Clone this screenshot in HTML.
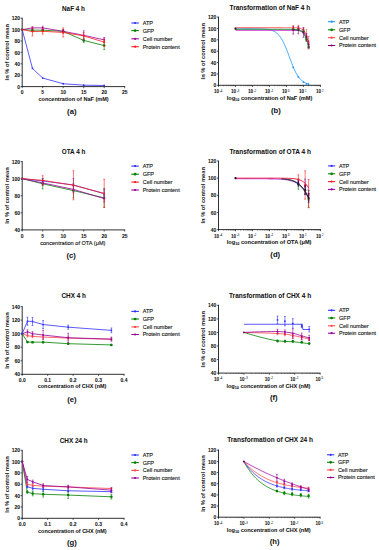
<!DOCTYPE html>
<html><head><meta charset="utf-8"><style>
html,body{margin:0;padding:0;background:#fff;overflow:hidden;width:379px;height:550px;}
svg{display:block;}
text{font-family:"Liberation Sans", sans-serif;stroke:#111;stroke-width:0.12px;}
text[font-weight=bold]{stroke-width:0.04px;}
</style></head><body>
<svg width="379" height="550" viewBox="0 0 379 550">
<rect width="379" height="550" fill="#fff"/>
<text x="73.50" y="10.62" font-size="6.35" font-weight="bold" text-anchor="middle" fill="#111" >NaF 4 h</text>
<line x1="22.20" y1="87.05" x2="22.20" y2="17.75" stroke="#1a1a1a" stroke-width="0.9"/>
<line x1="20.60" y1="86.60" x2="22.20" y2="86.60" stroke="#1a1a1a" stroke-width="0.7"/>
<text x="20.00" y="88.70" font-size="5.0" font-weight="bold" text-anchor="end" fill="#111" >0</text>
<line x1="20.60" y1="75.20" x2="22.20" y2="75.20" stroke="#1a1a1a" stroke-width="0.7"/>
<text x="20.00" y="77.30" font-size="5.0" font-weight="bold" text-anchor="end" fill="#111" >20</text>
<line x1="20.60" y1="63.80" x2="22.20" y2="63.80" stroke="#1a1a1a" stroke-width="0.7"/>
<text x="20.00" y="65.90" font-size="5.0" font-weight="bold" text-anchor="end" fill="#111" >40</text>
<line x1="20.60" y1="52.40" x2="22.20" y2="52.40" stroke="#1a1a1a" stroke-width="0.7"/>
<text x="20.00" y="54.50" font-size="5.0" font-weight="bold" text-anchor="end" fill="#111" >60</text>
<line x1="20.60" y1="41.00" x2="22.20" y2="41.00" stroke="#1a1a1a" stroke-width="0.7"/>
<text x="20.00" y="43.10" font-size="5.0" font-weight="bold" text-anchor="end" fill="#111" >80</text>
<line x1="20.60" y1="29.60" x2="22.20" y2="29.60" stroke="#1a1a1a" stroke-width="0.7"/>
<text x="20.00" y="31.70" font-size="5.0" font-weight="bold" text-anchor="end" fill="#111" >100</text>
<line x1="20.60" y1="18.20" x2="22.20" y2="18.20" stroke="#1a1a1a" stroke-width="0.7"/>
<text x="20.00" y="20.30" font-size="5.0" font-weight="bold" text-anchor="end" fill="#111" >120</text>
<line x1="21.75" y1="86.60" x2="125.15" y2="86.60" stroke="#1a1a1a" stroke-width="0.9"/>
<line x1="22.20" y1="86.60" x2="22.20" y2="88.20" stroke="#1a1a1a" stroke-width="0.7"/>
<text x="22.20" y="94.40" font-size="5.0" font-weight="bold" text-anchor="middle" fill="#111" >0</text>
<line x1="42.70" y1="86.60" x2="42.70" y2="88.20" stroke="#1a1a1a" stroke-width="0.7"/>
<text x="42.70" y="94.40" font-size="5.0" font-weight="bold" text-anchor="middle" fill="#111" >5</text>
<line x1="63.20" y1="86.60" x2="63.20" y2="88.20" stroke="#1a1a1a" stroke-width="0.7"/>
<text x="63.20" y="94.40" font-size="5.0" font-weight="bold" text-anchor="middle" fill="#111" >10</text>
<line x1="83.70" y1="86.60" x2="83.70" y2="88.20" stroke="#1a1a1a" stroke-width="0.7"/>
<text x="83.70" y="94.40" font-size="5.0" font-weight="bold" text-anchor="middle" fill="#111" >15</text>
<line x1="104.20" y1="86.60" x2="104.20" y2="88.20" stroke="#1a1a1a" stroke-width="0.7"/>
<text x="104.20" y="94.40" font-size="5.0" font-weight="bold" text-anchor="middle" fill="#111" >20</text>
<line x1="124.70" y1="86.60" x2="124.70" y2="88.20" stroke="#1a1a1a" stroke-width="0.7"/>
<text x="124.70" y="94.40" font-size="5.0" font-weight="bold" text-anchor="middle" fill="#111" >25</text>
<text x="0" y="0" font-size="5.75" font-weight="bold" text-anchor="middle" fill="#1a1a1a" style="stroke-width:0" transform="translate(8.90,52.20) rotate(-90)">In % of control mean</text>
<text x="73.55" y="100.87" font-size="5.55" font-weight="bold" text-anchor="middle" fill="#111" >concentration of NaF (mM)</text>
<text x="71.80" y="113.65" font-size="7.7" font-weight="bold" text-anchor="middle" fill="#111" >(a)</text>
<line x1="131.30" y1="23.00" x2="138.90" y2="23.00" stroke="#3030ff" stroke-width="1.05"/>
<circle cx="135.10" cy="23.00" r="1.1" fill="#3030ff"/>
<text x="142.70" y="24.98" font-size="5.5" font-weight="normal" text-anchor="start" fill="#111" >ATP</text>
<line x1="131.30" y1="30.60" x2="138.90" y2="30.60" stroke="#008000" stroke-width="1.05"/>
<circle cx="135.10" cy="30.60" r="1.35" fill="#008000"/>
<text x="142.70" y="32.58" font-size="5.5" font-weight="normal" text-anchor="start" fill="#111" >GFP</text>
<line x1="131.30" y1="38.80" x2="138.90" y2="38.80" stroke="#990099" stroke-width="1.05"/>
<circle cx="135.10" cy="38.80" r="1.1" fill="#990099"/>
<text x="142.70" y="40.78" font-size="5.5" font-weight="normal" text-anchor="start" fill="#111" >Cell number</text>
<line x1="131.30" y1="46.70" x2="138.90" y2="46.70" stroke="#ff1a1a" stroke-width="1.05"/>
<circle cx="135.10" cy="46.70" r="1.1" fill="#ff1a1a"/>
<text x="142.70" y="48.68" font-size="5.5" font-weight="normal" text-anchor="start" fill="#111" >Protein content</text>
<polyline points="22.20,29.60 32.45,68.36 42.70,78.05 63.20,83.75 83.70,85.17 104.20,85.46" fill="none" stroke="#3030ff" stroke-width="0.8" stroke-linejoin="round"/>
<circle cx="22.20" cy="29.60" r="0.9" fill="#3030ff"/>
<circle cx="32.45" cy="68.36" r="0.9" fill="#3030ff"/>
<circle cx="42.70" cy="78.05" r="0.9" fill="#3030ff"/>
<circle cx="63.20" cy="83.75" r="0.9" fill="#3030ff"/>
<circle cx="83.70" cy="85.17" r="0.9" fill="#3030ff"/>
<circle cx="104.20" cy="85.46" r="0.9" fill="#3030ff"/>
<polyline points="22.20,29.60 32.45,30.17 42.70,30.17 63.20,31.31 83.70,40.43 104.20,45.56" fill="none" stroke="#008000" stroke-width="0.8" stroke-linejoin="round"/>
<circle cx="22.20" cy="29.60" r="1.25" fill="#008000"/>
<line x1="32.45" y1="29.03" x2="32.45" y2="31.31" stroke="#008000" stroke-width="0.6"/>
<line x1="31.55" y1="29.03" x2="33.35" y2="29.03" stroke="#008000" stroke-width="0.6"/>
<line x1="31.55" y1="31.31" x2="33.35" y2="31.31" stroke="#008000" stroke-width="0.6"/>
<circle cx="32.45" cy="30.17" r="1.25" fill="#008000"/>
<line x1="42.70" y1="29.03" x2="42.70" y2="31.31" stroke="#008000" stroke-width="0.6"/>
<line x1="41.80" y1="29.03" x2="43.60" y2="29.03" stroke="#008000" stroke-width="0.6"/>
<line x1="41.80" y1="31.31" x2="43.60" y2="31.31" stroke="#008000" stroke-width="0.6"/>
<circle cx="42.70" cy="30.17" r="1.25" fill="#008000"/>
<line x1="63.20" y1="29.60" x2="63.20" y2="33.02" stroke="#008000" stroke-width="0.6"/>
<line x1="62.30" y1="29.60" x2="64.10" y2="29.60" stroke="#008000" stroke-width="0.6"/>
<line x1="62.30" y1="33.02" x2="64.10" y2="33.02" stroke="#008000" stroke-width="0.6"/>
<circle cx="63.20" cy="31.31" r="1.25" fill="#008000"/>
<line x1="83.70" y1="38.15" x2="83.70" y2="42.71" stroke="#008000" stroke-width="0.6"/>
<line x1="82.80" y1="38.15" x2="84.60" y2="38.15" stroke="#008000" stroke-width="0.6"/>
<line x1="82.80" y1="42.71" x2="84.60" y2="42.71" stroke="#008000" stroke-width="0.6"/>
<circle cx="83.70" cy="40.43" r="1.25" fill="#008000"/>
<line x1="104.20" y1="41.57" x2="104.20" y2="49.55" stroke="#008000" stroke-width="0.6"/>
<line x1="103.30" y1="41.57" x2="105.10" y2="41.57" stroke="#008000" stroke-width="0.6"/>
<line x1="103.30" y1="49.55" x2="105.10" y2="49.55" stroke="#008000" stroke-width="0.6"/>
<circle cx="104.20" cy="45.56" r="1.25" fill="#008000"/>
<polyline points="22.20,29.60 32.45,27.89 42.70,27.89 63.20,31.31 83.70,35.30 104.20,39.86" fill="none" stroke="#990099" stroke-width="0.8" stroke-linejoin="round"/>
<circle cx="22.20" cy="29.60" r="0.9" fill="#990099"/>
<line x1="32.45" y1="26.75" x2="32.45" y2="29.03" stroke="#990099" stroke-width="0.6"/>
<line x1="31.55" y1="26.75" x2="33.35" y2="26.75" stroke="#990099" stroke-width="0.6"/>
<line x1="31.55" y1="29.03" x2="33.35" y2="29.03" stroke="#990099" stroke-width="0.6"/>
<circle cx="32.45" cy="27.89" r="0.9" fill="#990099"/>
<line x1="42.70" y1="26.18" x2="42.70" y2="29.60" stroke="#990099" stroke-width="0.6"/>
<line x1="41.80" y1="26.18" x2="43.60" y2="26.18" stroke="#990099" stroke-width="0.6"/>
<line x1="41.80" y1="29.60" x2="43.60" y2="29.60" stroke="#990099" stroke-width="0.6"/>
<circle cx="42.70" cy="27.89" r="0.9" fill="#990099"/>
<line x1="63.20" y1="29.60" x2="63.20" y2="33.02" stroke="#990099" stroke-width="0.6"/>
<line x1="62.30" y1="29.60" x2="64.10" y2="29.60" stroke="#990099" stroke-width="0.6"/>
<line x1="62.30" y1="33.02" x2="64.10" y2="33.02" stroke="#990099" stroke-width="0.6"/>
<circle cx="63.20" cy="31.31" r="0.9" fill="#990099"/>
<line x1="83.70" y1="30.74" x2="83.70" y2="39.86" stroke="#990099" stroke-width="0.6"/>
<line x1="82.80" y1="30.74" x2="84.60" y2="30.74" stroke="#990099" stroke-width="0.6"/>
<line x1="82.80" y1="39.86" x2="84.60" y2="39.86" stroke="#990099" stroke-width="0.6"/>
<circle cx="83.70" cy="35.30" r="0.9" fill="#990099"/>
<line x1="104.20" y1="37.58" x2="104.20" y2="42.14" stroke="#990099" stroke-width="0.6"/>
<line x1="103.30" y1="37.58" x2="105.10" y2="37.58" stroke="#990099" stroke-width="0.6"/>
<line x1="103.30" y1="42.14" x2="105.10" y2="42.14" stroke="#990099" stroke-width="0.6"/>
<circle cx="104.20" cy="39.86" r="0.9" fill="#990099"/>
<polyline points="22.20,29.60 32.45,31.59 42.70,31.31 63.20,32.45 83.70,35.87 104.20,42.14" fill="none" stroke="#ff1a1a" stroke-width="0.8" stroke-linejoin="round"/>
<circle cx="22.20" cy="29.60" r="0.9" fill="#ff1a1a"/>
<line x1="32.45" y1="27.32" x2="32.45" y2="35.87" stroke="#ff1a1a" stroke-width="0.6"/>
<line x1="31.55" y1="27.32" x2="33.35" y2="27.32" stroke="#ff1a1a" stroke-width="0.6"/>
<line x1="31.55" y1="35.87" x2="33.35" y2="35.87" stroke="#ff1a1a" stroke-width="0.6"/>
<circle cx="32.45" cy="31.59" r="0.9" fill="#ff1a1a"/>
<line x1="42.70" y1="28.46" x2="42.70" y2="34.16" stroke="#ff1a1a" stroke-width="0.6"/>
<line x1="41.80" y1="28.46" x2="43.60" y2="28.46" stroke="#ff1a1a" stroke-width="0.6"/>
<line x1="41.80" y1="34.16" x2="43.60" y2="34.16" stroke="#ff1a1a" stroke-width="0.6"/>
<circle cx="42.70" cy="31.31" r="0.9" fill="#ff1a1a"/>
<line x1="63.20" y1="27.89" x2="63.20" y2="37.01" stroke="#ff1a1a" stroke-width="0.6"/>
<line x1="62.30" y1="27.89" x2="64.10" y2="27.89" stroke="#ff1a1a" stroke-width="0.6"/>
<line x1="62.30" y1="37.01" x2="64.10" y2="37.01" stroke="#ff1a1a" stroke-width="0.6"/>
<circle cx="63.20" cy="32.45" r="0.9" fill="#ff1a1a"/>
<line x1="83.70" y1="32.45" x2="83.70" y2="39.29" stroke="#ff1a1a" stroke-width="0.6"/>
<line x1="82.80" y1="32.45" x2="84.60" y2="32.45" stroke="#ff1a1a" stroke-width="0.6"/>
<line x1="82.80" y1="39.29" x2="84.60" y2="39.29" stroke="#ff1a1a" stroke-width="0.6"/>
<circle cx="83.70" cy="35.87" r="0.9" fill="#ff1a1a"/>
<line x1="104.20" y1="38.15" x2="104.20" y2="46.13" stroke="#ff1a1a" stroke-width="0.6"/>
<line x1="103.30" y1="38.15" x2="105.10" y2="38.15" stroke="#ff1a1a" stroke-width="0.6"/>
<line x1="103.30" y1="46.13" x2="105.10" y2="46.13" stroke="#ff1a1a" stroke-width="0.6"/>
<circle cx="104.20" cy="42.14" r="0.9" fill="#ff1a1a"/>
<text x="73.55" y="154.17" font-size="6.35" font-weight="bold" text-anchor="middle" fill="#111" >OTA 4 h</text>
<line x1="22.20" y1="230.35" x2="22.20" y2="161.15" stroke="#1a1a1a" stroke-width="0.9"/>
<line x1="20.60" y1="229.90" x2="22.20" y2="229.90" stroke="#1a1a1a" stroke-width="0.7"/>
<text x="20.00" y="232.00" font-size="5.0" font-weight="bold" text-anchor="end" fill="#111" >40</text>
<line x1="20.60" y1="212.82" x2="22.20" y2="212.82" stroke="#1a1a1a" stroke-width="0.7"/>
<text x="20.00" y="214.92" font-size="5.0" font-weight="bold" text-anchor="end" fill="#111" >60</text>
<line x1="20.60" y1="195.74" x2="22.20" y2="195.74" stroke="#1a1a1a" stroke-width="0.7"/>
<text x="20.00" y="197.84" font-size="5.0" font-weight="bold" text-anchor="end" fill="#111" >80</text>
<line x1="20.60" y1="178.66" x2="22.20" y2="178.66" stroke="#1a1a1a" stroke-width="0.7"/>
<text x="20.00" y="180.76" font-size="5.0" font-weight="bold" text-anchor="end" fill="#111" >100</text>
<line x1="20.60" y1="161.58" x2="22.20" y2="161.58" stroke="#1a1a1a" stroke-width="0.7"/>
<text x="20.00" y="163.68" font-size="5.0" font-weight="bold" text-anchor="end" fill="#111" >120</text>
<line x1="21.75" y1="229.90" x2="125.15" y2="229.90" stroke="#1a1a1a" stroke-width="0.9"/>
<line x1="22.20" y1="229.90" x2="22.20" y2="231.50" stroke="#1a1a1a" stroke-width="0.7"/>
<text x="22.20" y="237.70" font-size="5.0" font-weight="bold" text-anchor="middle" fill="#111" >0</text>
<line x1="42.70" y1="229.90" x2="42.70" y2="231.50" stroke="#1a1a1a" stroke-width="0.7"/>
<text x="42.70" y="237.70" font-size="5.0" font-weight="bold" text-anchor="middle" fill="#111" >5</text>
<line x1="63.20" y1="229.90" x2="63.20" y2="231.50" stroke="#1a1a1a" stroke-width="0.7"/>
<text x="63.20" y="237.70" font-size="5.0" font-weight="bold" text-anchor="middle" fill="#111" >10</text>
<line x1="83.70" y1="229.90" x2="83.70" y2="231.50" stroke="#1a1a1a" stroke-width="0.7"/>
<text x="83.70" y="237.70" font-size="5.0" font-weight="bold" text-anchor="middle" fill="#111" >15</text>
<line x1="104.20" y1="229.90" x2="104.20" y2="231.50" stroke="#1a1a1a" stroke-width="0.7"/>
<text x="104.20" y="237.70" font-size="5.0" font-weight="bold" text-anchor="middle" fill="#111" >20</text>
<line x1="124.70" y1="229.90" x2="124.70" y2="231.50" stroke="#1a1a1a" stroke-width="0.7"/>
<text x="124.70" y="237.70" font-size="5.0" font-weight="bold" text-anchor="middle" fill="#111" >25</text>
<text x="0" y="0" font-size="5.75" font-weight="bold" text-anchor="middle" fill="#1a1a1a" style="stroke-width:0" transform="translate(8.90,195.50) rotate(-90)">In % of control mean</text>
<text x="72.80" y="245.18" font-size="5.6" font-weight="normal" text-anchor="middle" fill="#111" >concentration of OTA (μM)</text>
<text x="71.15" y="257.70" font-size="7.7" font-weight="bold" text-anchor="middle" fill="#111" >(c)</text>
<line x1="131.30" y1="166.10" x2="138.90" y2="166.10" stroke="#3030ff" stroke-width="1.05"/>
<circle cx="135.10" cy="166.10" r="1.1" fill="#3030ff"/>
<text x="142.70" y="168.08" font-size="5.5" font-weight="normal" text-anchor="start" fill="#111" >ATP</text>
<line x1="131.30" y1="174.20" x2="138.90" y2="174.20" stroke="#008000" stroke-width="1.05"/>
<circle cx="135.10" cy="174.20" r="1.35" fill="#008000"/>
<text x="142.70" y="176.18" font-size="5.5" font-weight="normal" text-anchor="start" fill="#111" >GFP</text>
<line x1="131.30" y1="182.10" x2="138.90" y2="182.10" stroke="#ff1a1a" stroke-width="1.05"/>
<circle cx="135.10" cy="182.10" r="1.1" fill="#ff1a1a"/>
<text x="142.70" y="184.08" font-size="5.5" font-weight="normal" text-anchor="start" fill="#111" >Cell number</text>
<line x1="131.30" y1="190.00" x2="138.90" y2="190.00" stroke="#990099" stroke-width="1.05"/>
<circle cx="135.10" cy="190.00" r="1.1" fill="#990099"/>
<text x="142.70" y="191.98" font-size="5.5" font-weight="normal" text-anchor="start" fill="#111" >Protein content</text>
<polyline points="22.20,178.66 42.70,183.78 73.45,190.62 104.20,197.88" fill="none" stroke="#008000" stroke-width="0.8" stroke-linejoin="round"/>
<circle cx="22.20" cy="178.66" r="1.2" fill="#008000"/>
<line x1="42.70" y1="178.66" x2="42.70" y2="188.91" stroke="#008000" stroke-width="0.6"/>
<line x1="41.80" y1="178.66" x2="43.60" y2="178.66" stroke="#008000" stroke-width="0.6"/>
<line x1="41.80" y1="188.91" x2="43.60" y2="188.91" stroke="#008000" stroke-width="0.6"/>
<circle cx="42.70" cy="183.78" r="1.2" fill="#008000"/>
<line x1="73.45" y1="183.36" x2="73.45" y2="197.88" stroke="#008000" stroke-width="0.6"/>
<line x1="72.55" y1="183.36" x2="74.35" y2="183.36" stroke="#008000" stroke-width="0.6"/>
<line x1="72.55" y1="197.88" x2="74.35" y2="197.88" stroke="#008000" stroke-width="0.6"/>
<circle cx="73.45" cy="190.62" r="1.2" fill="#008000"/>
<line x1="104.20" y1="188.48" x2="104.20" y2="207.27" stroke="#008000" stroke-width="0.6"/>
<line x1="103.30" y1="188.48" x2="105.10" y2="188.48" stroke="#008000" stroke-width="0.6"/>
<line x1="103.30" y1="207.27" x2="105.10" y2="207.27" stroke="#008000" stroke-width="0.6"/>
<circle cx="104.20" cy="197.88" r="1.2" fill="#008000"/>
<polyline points="22.20,178.66 42.70,182.93 73.45,189.42 104.20,198.64" fill="none" stroke="#990099" stroke-width="0.8" stroke-linejoin="round"/>
<circle cx="22.20" cy="178.66" r="0.9" fill="#990099"/>
<line x1="42.70" y1="180.37" x2="42.70" y2="185.49" stroke="#990099" stroke-width="0.6"/>
<line x1="41.80" y1="180.37" x2="43.60" y2="180.37" stroke="#990099" stroke-width="0.6"/>
<line x1="41.80" y1="185.49" x2="43.60" y2="185.49" stroke="#990099" stroke-width="0.6"/>
<circle cx="42.70" cy="182.93" r="0.9" fill="#990099"/>
<line x1="73.45" y1="186.00" x2="73.45" y2="192.84" stroke="#990099" stroke-width="0.6"/>
<line x1="72.55" y1="186.00" x2="74.35" y2="186.00" stroke="#990099" stroke-width="0.6"/>
<line x1="72.55" y1="192.84" x2="74.35" y2="192.84" stroke="#990099" stroke-width="0.6"/>
<circle cx="73.45" cy="189.42" r="0.9" fill="#990099"/>
<line x1="104.20" y1="195.23" x2="104.20" y2="202.06" stroke="#990099" stroke-width="0.6"/>
<line x1="103.30" y1="195.23" x2="105.10" y2="195.23" stroke="#990099" stroke-width="0.6"/>
<line x1="103.30" y1="202.06" x2="105.10" y2="202.06" stroke="#990099" stroke-width="0.6"/>
<circle cx="104.20" cy="198.64" r="0.9" fill="#990099"/>
<polyline points="22.20,178.66 42.70,180.97 73.45,184.98 104.20,193.69" fill="none" stroke="#3030ff" stroke-width="0.8" stroke-linejoin="round"/>
<circle cx="22.20" cy="178.66" r="0.9" fill="#3030ff"/>
<line x1="42.70" y1="178.40" x2="42.70" y2="183.53" stroke="#3030ff" stroke-width="0.6"/>
<line x1="41.80" y1="178.40" x2="43.60" y2="178.40" stroke="#3030ff" stroke-width="0.6"/>
<line x1="41.80" y1="183.53" x2="43.60" y2="183.53" stroke="#3030ff" stroke-width="0.6"/>
<circle cx="42.70" cy="180.97" r="0.9" fill="#3030ff"/>
<line x1="73.45" y1="178.57" x2="73.45" y2="191.38" stroke="#3030ff" stroke-width="0.6"/>
<line x1="72.55" y1="178.57" x2="74.35" y2="178.57" stroke="#3030ff" stroke-width="0.6"/>
<line x1="72.55" y1="191.38" x2="74.35" y2="191.38" stroke="#3030ff" stroke-width="0.6"/>
<circle cx="73.45" cy="184.98" r="0.9" fill="#3030ff"/>
<line x1="104.20" y1="189.42" x2="104.20" y2="197.96" stroke="#3030ff" stroke-width="0.6"/>
<line x1="103.30" y1="189.42" x2="105.10" y2="189.42" stroke="#3030ff" stroke-width="0.6"/>
<line x1="103.30" y1="197.96" x2="105.10" y2="197.96" stroke="#3030ff" stroke-width="0.6"/>
<circle cx="104.20" cy="193.69" r="0.9" fill="#3030ff"/>
<polyline points="22.20,178.66 42.70,180.37 73.45,185.24 104.20,193.43" fill="none" stroke="#ff1a1a" stroke-width="0.8" stroke-linejoin="round"/>
<circle cx="22.20" cy="178.66" r="0.9" fill="#ff1a1a"/>
<line x1="42.70" y1="175.67" x2="42.70" y2="185.06" stroke="#ff1a1a" stroke-width="0.6"/>
<line x1="41.80" y1="175.67" x2="43.60" y2="175.67" stroke="#ff1a1a" stroke-width="0.6"/>
<line x1="41.80" y1="185.06" x2="43.60" y2="185.06" stroke="#ff1a1a" stroke-width="0.6"/>
<circle cx="42.70" cy="180.37" r="0.9" fill="#ff1a1a"/>
<line x1="73.45" y1="170.72" x2="73.45" y2="199.75" stroke="#ff1a1a" stroke-width="0.6"/>
<line x1="72.55" y1="170.72" x2="74.35" y2="170.72" stroke="#ff1a1a" stroke-width="0.6"/>
<line x1="72.55" y1="199.75" x2="74.35" y2="199.75" stroke="#ff1a1a" stroke-width="0.6"/>
<circle cx="73.45" cy="185.24" r="0.9" fill="#ff1a1a"/>
<line x1="104.20" y1="179.34" x2="104.20" y2="207.53" stroke="#ff1a1a" stroke-width="0.6"/>
<line x1="103.30" y1="179.34" x2="105.10" y2="179.34" stroke="#ff1a1a" stroke-width="0.6"/>
<line x1="103.30" y1="207.53" x2="105.10" y2="207.53" stroke="#ff1a1a" stroke-width="0.6"/>
<circle cx="104.20" cy="193.43" r="0.9" fill="#ff1a1a"/>
<text x="73.65" y="298.27" font-size="6.35" font-weight="bold" text-anchor="middle" fill="#111" >CHX 4 h</text>
<line x1="22.20" y1="374.75" x2="22.20" y2="306.15" stroke="#1a1a1a" stroke-width="0.9"/>
<line x1="20.60" y1="374.30" x2="22.20" y2="374.30" stroke="#1a1a1a" stroke-width="0.7"/>
<text x="20.00" y="376.40" font-size="5.0" font-weight="bold" text-anchor="end" fill="#111" >40</text>
<line x1="20.60" y1="360.76" x2="22.20" y2="360.76" stroke="#1a1a1a" stroke-width="0.7"/>
<text x="20.00" y="362.86" font-size="5.0" font-weight="bold" text-anchor="end" fill="#111" >60</text>
<line x1="20.60" y1="347.22" x2="22.20" y2="347.22" stroke="#1a1a1a" stroke-width="0.7"/>
<text x="20.00" y="349.32" font-size="5.0" font-weight="bold" text-anchor="end" fill="#111" >80</text>
<line x1="20.60" y1="333.68" x2="22.20" y2="333.68" stroke="#1a1a1a" stroke-width="0.7"/>
<text x="20.00" y="335.78" font-size="5.0" font-weight="bold" text-anchor="end" fill="#111" >100</text>
<line x1="20.60" y1="320.14" x2="22.20" y2="320.14" stroke="#1a1a1a" stroke-width="0.7"/>
<text x="20.00" y="322.24" font-size="5.0" font-weight="bold" text-anchor="end" fill="#111" >120</text>
<line x1="20.60" y1="306.60" x2="22.20" y2="306.60" stroke="#1a1a1a" stroke-width="0.7"/>
<text x="20.00" y="308.70" font-size="5.0" font-weight="bold" text-anchor="end" fill="#111" >140</text>
<line x1="21.75" y1="374.30" x2="124.45" y2="374.30" stroke="#1a1a1a" stroke-width="0.9"/>
<line x1="22.20" y1="374.30" x2="22.20" y2="375.90" stroke="#1a1a1a" stroke-width="0.7"/>
<text x="22.20" y="382.10" font-size="5.0" font-weight="bold" text-anchor="middle" fill="#111" >0.0</text>
<line x1="47.65" y1="374.30" x2="47.65" y2="375.90" stroke="#1a1a1a" stroke-width="0.7"/>
<text x="47.65" y="382.10" font-size="5.0" font-weight="bold" text-anchor="middle" fill="#111" >0.1</text>
<line x1="73.10" y1="374.30" x2="73.10" y2="375.90" stroke="#1a1a1a" stroke-width="0.7"/>
<text x="73.10" y="382.10" font-size="5.0" font-weight="bold" text-anchor="middle" fill="#111" >0.2</text>
<line x1="98.55" y1="374.30" x2="98.55" y2="375.90" stroke="#1a1a1a" stroke-width="0.7"/>
<text x="98.55" y="382.10" font-size="5.0" font-weight="bold" text-anchor="middle" fill="#111" >0.3</text>
<line x1="124.00" y1="374.30" x2="124.00" y2="375.90" stroke="#1a1a1a" stroke-width="0.7"/>
<text x="124.00" y="382.10" font-size="5.0" font-weight="bold" text-anchor="middle" fill="#111" >0.4</text>
<text x="0" y="0" font-size="5.75" font-weight="bold" text-anchor="middle" fill="#1a1a1a" style="stroke-width:0" transform="translate(8.90,340.50) rotate(-90)">In % of control mean</text>
<text x="72.05" y="388.03" font-size="5.45" font-weight="bold" text-anchor="middle" fill="#111" >concentration of CHX (nM)</text>
<text x="71.85" y="401.90" font-size="7.7" font-weight="bold" text-anchor="middle" fill="#111" >(e)</text>
<line x1="131.30" y1="311.40" x2="138.90" y2="311.40" stroke="#3030ff" stroke-width="1.05"/>
<circle cx="135.10" cy="311.40" r="1.1" fill="#3030ff"/>
<text x="142.70" y="313.38" font-size="5.5" font-weight="normal" text-anchor="start" fill="#111" >ATP</text>
<line x1="131.30" y1="319.00" x2="138.90" y2="319.00" stroke="#008000" stroke-width="1.05"/>
<circle cx="135.10" cy="319.00" r="1.35" fill="#008000"/>
<text x="142.70" y="320.98" font-size="5.5" font-weight="normal" text-anchor="start" fill="#111" >GFP</text>
<line x1="131.30" y1="326.90" x2="138.90" y2="326.90" stroke="#ff4444" stroke-width="1.05"/>
<circle cx="135.10" cy="326.90" r="1.1" fill="#ff4444"/>
<text x="142.70" y="328.88" font-size="5.5" font-weight="normal" text-anchor="start" fill="#111" >Cell number</text>
<line x1="131.30" y1="334.50" x2="138.90" y2="334.50" stroke="#990099" stroke-width="1.05"/>
<circle cx="135.10" cy="334.50" r="1.1" fill="#990099"/>
<text x="142.70" y="336.48" font-size="5.5" font-weight="normal" text-anchor="start" fill="#111" >Protein content</text>
<polyline points="22.20,333.68 27.50,335.71 32.50,336.39 43.10,337.06 68.20,338.08 111.40,339.37" fill="none" stroke="#ff4444" stroke-width="0.8" stroke-linejoin="round"/>
<circle cx="22.20" cy="333.68" r="0.9" fill="#ff4444"/>
<line x1="27.50" y1="334.36" x2="27.50" y2="337.06" stroke="#ff4444" stroke-width="0.6"/>
<line x1="26.60" y1="334.36" x2="28.40" y2="334.36" stroke="#ff4444" stroke-width="0.6"/>
<line x1="26.60" y1="337.06" x2="28.40" y2="337.06" stroke="#ff4444" stroke-width="0.6"/>
<circle cx="27.50" cy="335.71" r="0.9" fill="#ff4444"/>
<line x1="32.50" y1="335.03" x2="32.50" y2="337.74" stroke="#ff4444" stroke-width="0.6"/>
<line x1="31.60" y1="335.03" x2="33.40" y2="335.03" stroke="#ff4444" stroke-width="0.6"/>
<line x1="31.60" y1="337.74" x2="33.40" y2="337.74" stroke="#ff4444" stroke-width="0.6"/>
<circle cx="32.50" cy="336.39" r="0.9" fill="#ff4444"/>
<line x1="43.10" y1="335.03" x2="43.10" y2="339.10" stroke="#ff4444" stroke-width="0.6"/>
<line x1="42.20" y1="335.03" x2="44.00" y2="335.03" stroke="#ff4444" stroke-width="0.6"/>
<line x1="42.20" y1="339.10" x2="44.00" y2="339.10" stroke="#ff4444" stroke-width="0.6"/>
<circle cx="43.10" cy="337.06" r="0.9" fill="#ff4444"/>
<line x1="68.20" y1="336.05" x2="68.20" y2="340.11" stroke="#ff4444" stroke-width="0.6"/>
<line x1="67.30" y1="336.05" x2="69.10" y2="336.05" stroke="#ff4444" stroke-width="0.6"/>
<line x1="67.30" y1="340.11" x2="69.10" y2="340.11" stroke="#ff4444" stroke-width="0.6"/>
<circle cx="68.20" cy="338.08" r="0.9" fill="#ff4444"/>
<line x1="111.40" y1="338.01" x2="111.40" y2="340.72" stroke="#ff4444" stroke-width="0.6"/>
<line x1="110.50" y1="338.01" x2="112.30" y2="338.01" stroke="#ff4444" stroke-width="0.6"/>
<line x1="110.50" y1="340.72" x2="112.30" y2="340.72" stroke="#ff4444" stroke-width="0.6"/>
<circle cx="111.40" cy="339.37" r="0.9" fill="#ff4444"/>
<polyline points="22.20,333.68 27.50,342.07 32.50,342.14 43.10,342.14 68.20,343.70 111.40,344.92" fill="none" stroke="#008000" stroke-width="0.8" stroke-linejoin="round"/>
<circle cx="22.20" cy="333.68" r="1.25" fill="#008000"/>
<line x1="27.50" y1="341.40" x2="27.50" y2="342.75" stroke="#008000" stroke-width="0.6"/>
<line x1="26.60" y1="341.40" x2="28.40" y2="341.40" stroke="#008000" stroke-width="0.6"/>
<line x1="26.60" y1="342.75" x2="28.40" y2="342.75" stroke="#008000" stroke-width="0.6"/>
<circle cx="27.50" cy="342.07" r="1.25" fill="#008000"/>
<line x1="32.50" y1="341.47" x2="32.50" y2="342.82" stroke="#008000" stroke-width="0.6"/>
<line x1="31.60" y1="341.47" x2="33.40" y2="341.47" stroke="#008000" stroke-width="0.6"/>
<line x1="31.60" y1="342.82" x2="33.40" y2="342.82" stroke="#008000" stroke-width="0.6"/>
<circle cx="32.50" cy="342.14" r="1.25" fill="#008000"/>
<line x1="43.10" y1="341.47" x2="43.10" y2="342.82" stroke="#008000" stroke-width="0.6"/>
<line x1="42.20" y1="341.47" x2="44.00" y2="341.47" stroke="#008000" stroke-width="0.6"/>
<line x1="42.20" y1="342.82" x2="44.00" y2="342.82" stroke="#008000" stroke-width="0.6"/>
<circle cx="43.10" cy="342.14" r="1.25" fill="#008000"/>
<line x1="68.20" y1="343.02" x2="68.20" y2="344.38" stroke="#008000" stroke-width="0.6"/>
<line x1="67.30" y1="343.02" x2="69.10" y2="343.02" stroke="#008000" stroke-width="0.6"/>
<line x1="67.30" y1="344.38" x2="69.10" y2="344.38" stroke="#008000" stroke-width="0.6"/>
<circle cx="68.20" cy="343.70" r="1.25" fill="#008000"/>
<line x1="111.40" y1="344.24" x2="111.40" y2="345.60" stroke="#008000" stroke-width="0.6"/>
<line x1="110.50" y1="344.24" x2="112.30" y2="344.24" stroke="#008000" stroke-width="0.6"/>
<line x1="110.50" y1="345.60" x2="112.30" y2="345.60" stroke="#008000" stroke-width="0.6"/>
<circle cx="111.40" cy="344.92" r="1.25" fill="#008000"/>
<polyline points="22.20,333.68 27.50,331.85 32.50,333.68 43.10,335.03 68.20,337.74 111.40,339.10" fill="none" stroke="#990099" stroke-width="0.8" stroke-linejoin="round"/>
<circle cx="22.20" cy="333.68" r="0.9" fill="#990099"/>
<line x1="27.50" y1="329.82" x2="27.50" y2="333.88" stroke="#990099" stroke-width="0.6"/>
<line x1="26.60" y1="329.82" x2="28.40" y2="329.82" stroke="#990099" stroke-width="0.6"/>
<line x1="26.60" y1="333.88" x2="28.40" y2="333.88" stroke="#990099" stroke-width="0.6"/>
<circle cx="27.50" cy="331.85" r="0.9" fill="#990099"/>
<line x1="32.50" y1="331.65" x2="32.50" y2="335.71" stroke="#990099" stroke-width="0.6"/>
<line x1="31.60" y1="331.65" x2="33.40" y2="331.65" stroke="#990099" stroke-width="0.6"/>
<line x1="31.60" y1="335.71" x2="33.40" y2="335.71" stroke="#990099" stroke-width="0.6"/>
<circle cx="32.50" cy="333.68" r="0.9" fill="#990099"/>
<line x1="43.10" y1="330.30" x2="43.10" y2="339.77" stroke="#990099" stroke-width="0.6"/>
<line x1="42.20" y1="330.30" x2="44.00" y2="330.30" stroke="#990099" stroke-width="0.6"/>
<line x1="42.20" y1="339.77" x2="44.00" y2="339.77" stroke="#990099" stroke-width="0.6"/>
<circle cx="43.10" cy="335.03" r="0.9" fill="#990099"/>
<line x1="68.20" y1="333.21" x2="68.20" y2="342.28" stroke="#990099" stroke-width="0.6"/>
<line x1="67.30" y1="333.21" x2="69.10" y2="333.21" stroke="#990099" stroke-width="0.6"/>
<line x1="67.30" y1="342.28" x2="69.10" y2="342.28" stroke="#990099" stroke-width="0.6"/>
<circle cx="68.20" cy="337.74" r="0.9" fill="#990099"/>
<line x1="111.40" y1="337.06" x2="111.40" y2="341.13" stroke="#990099" stroke-width="0.6"/>
<line x1="110.50" y1="337.06" x2="112.30" y2="337.06" stroke="#990099" stroke-width="0.6"/>
<line x1="110.50" y1="341.13" x2="112.30" y2="341.13" stroke="#990099" stroke-width="0.6"/>
<circle cx="111.40" cy="339.10" r="0.9" fill="#990099"/>
<polyline points="22.20,333.68 27.50,321.22 32.50,321.49 43.10,324.54 68.20,327.18 111.40,330.36" fill="none" stroke="#3030ff" stroke-width="0.8" stroke-linejoin="round"/>
<circle cx="22.20" cy="333.68" r="0.9" fill="#3030ff"/>
<line x1="27.50" y1="317.16" x2="27.50" y2="325.29" stroke="#3030ff" stroke-width="0.6"/>
<line x1="26.60" y1="317.16" x2="28.40" y2="317.16" stroke="#3030ff" stroke-width="0.6"/>
<line x1="26.60" y1="325.29" x2="28.40" y2="325.29" stroke="#3030ff" stroke-width="0.6"/>
<circle cx="27.50" cy="321.22" r="0.9" fill="#3030ff"/>
<line x1="32.50" y1="317.43" x2="32.50" y2="325.56" stroke="#3030ff" stroke-width="0.6"/>
<line x1="31.60" y1="317.43" x2="33.40" y2="317.43" stroke="#3030ff" stroke-width="0.6"/>
<line x1="31.60" y1="325.56" x2="33.40" y2="325.56" stroke="#3030ff" stroke-width="0.6"/>
<circle cx="32.50" cy="321.49" r="0.9" fill="#3030ff"/>
<line x1="43.10" y1="320.48" x2="43.10" y2="328.60" stroke="#3030ff" stroke-width="0.6"/>
<line x1="42.20" y1="320.48" x2="44.00" y2="320.48" stroke="#3030ff" stroke-width="0.6"/>
<line x1="42.20" y1="328.60" x2="44.00" y2="328.60" stroke="#3030ff" stroke-width="0.6"/>
<circle cx="43.10" cy="324.54" r="0.9" fill="#3030ff"/>
<line x1="68.20" y1="325.15" x2="68.20" y2="329.21" stroke="#3030ff" stroke-width="0.6"/>
<line x1="67.30" y1="325.15" x2="69.10" y2="325.15" stroke="#3030ff" stroke-width="0.6"/>
<line x1="67.30" y1="329.21" x2="69.10" y2="329.21" stroke="#3030ff" stroke-width="0.6"/>
<circle cx="68.20" cy="327.18" r="0.9" fill="#3030ff"/>
<line x1="111.40" y1="327.99" x2="111.40" y2="332.73" stroke="#3030ff" stroke-width="0.6"/>
<line x1="110.50" y1="327.99" x2="112.30" y2="327.99" stroke="#3030ff" stroke-width="0.6"/>
<line x1="110.50" y1="332.73" x2="112.30" y2="332.73" stroke="#3030ff" stroke-width="0.6"/>
<circle cx="111.40" cy="330.36" r="0.9" fill="#3030ff"/>
<text x="73.70" y="442.92" font-size="6.35" font-weight="bold" text-anchor="middle" fill="#111" >CHX 24 h</text>
<line x1="22.20" y1="518.75" x2="22.20" y2="449.95" stroke="#1a1a1a" stroke-width="0.9"/>
<line x1="20.60" y1="518.30" x2="22.20" y2="518.30" stroke="#1a1a1a" stroke-width="0.7"/>
<text x="20.00" y="520.40" font-size="5.0" font-weight="bold" text-anchor="end" fill="#111" >0</text>
<line x1="20.60" y1="506.95" x2="22.20" y2="506.95" stroke="#1a1a1a" stroke-width="0.7"/>
<text x="20.00" y="509.05" font-size="5.0" font-weight="bold" text-anchor="end" fill="#111" >20</text>
<line x1="20.60" y1="495.60" x2="22.20" y2="495.60" stroke="#1a1a1a" stroke-width="0.7"/>
<text x="20.00" y="497.70" font-size="5.0" font-weight="bold" text-anchor="end" fill="#111" >40</text>
<line x1="20.60" y1="484.25" x2="22.20" y2="484.25" stroke="#1a1a1a" stroke-width="0.7"/>
<text x="20.00" y="486.35" font-size="5.0" font-weight="bold" text-anchor="end" fill="#111" >60</text>
<line x1="20.60" y1="472.90" x2="22.20" y2="472.90" stroke="#1a1a1a" stroke-width="0.7"/>
<text x="20.00" y="475.00" font-size="5.0" font-weight="bold" text-anchor="end" fill="#111" >80</text>
<line x1="20.60" y1="461.55" x2="22.20" y2="461.55" stroke="#1a1a1a" stroke-width="0.7"/>
<text x="20.00" y="463.65" font-size="5.0" font-weight="bold" text-anchor="end" fill="#111" >100</text>
<line x1="20.60" y1="450.20" x2="22.20" y2="450.20" stroke="#1a1a1a" stroke-width="0.7"/>
<text x="20.00" y="452.30" font-size="5.0" font-weight="bold" text-anchor="end" fill="#111" >120</text>
<line x1="21.75" y1="518.30" x2="124.45" y2="518.30" stroke="#1a1a1a" stroke-width="0.9"/>
<line x1="22.20" y1="518.30" x2="22.20" y2="519.90" stroke="#1a1a1a" stroke-width="0.7"/>
<text x="22.20" y="526.10" font-size="5.0" font-weight="bold" text-anchor="middle" fill="#111" >0.0</text>
<line x1="47.65" y1="518.30" x2="47.65" y2="519.90" stroke="#1a1a1a" stroke-width="0.7"/>
<text x="47.65" y="526.10" font-size="5.0" font-weight="bold" text-anchor="middle" fill="#111" >0.1</text>
<line x1="73.10" y1="518.30" x2="73.10" y2="519.90" stroke="#1a1a1a" stroke-width="0.7"/>
<text x="73.10" y="526.10" font-size="5.0" font-weight="bold" text-anchor="middle" fill="#111" >0.2</text>
<line x1="98.55" y1="518.30" x2="98.55" y2="519.90" stroke="#1a1a1a" stroke-width="0.7"/>
<text x="98.55" y="526.10" font-size="5.0" font-weight="bold" text-anchor="middle" fill="#111" >0.3</text>
<line x1="124.00" y1="518.30" x2="124.00" y2="519.90" stroke="#1a1a1a" stroke-width="0.7"/>
<text x="124.00" y="526.10" font-size="5.0" font-weight="bold" text-anchor="middle" fill="#111" >0.4</text>
<text x="0" y="0" font-size="5.75" font-weight="bold" text-anchor="middle" fill="#1a1a1a" style="stroke-width:0" transform="translate(8.90,484.40) rotate(-90)">In % of control mean</text>
<text x="72.35" y="532.63" font-size="5.45" font-weight="bold" text-anchor="middle" fill="#111" >concentration of CHX (nM)</text>
<text x="71.85" y="545.35" font-size="7.7" font-weight="bold" text-anchor="middle" fill="#111" >(g)</text>
<line x1="131.30" y1="455.00" x2="138.90" y2="455.00" stroke="#3030ff" stroke-width="1.05"/>
<circle cx="135.10" cy="455.00" r="1.1" fill="#3030ff"/>
<text x="142.70" y="456.98" font-size="5.5" font-weight="normal" text-anchor="start" fill="#111" >ATP</text>
<line x1="131.30" y1="462.60" x2="138.90" y2="462.60" stroke="#008000" stroke-width="1.05"/>
<circle cx="135.10" cy="462.60" r="1.35" fill="#008000"/>
<text x="142.70" y="464.58" font-size="5.5" font-weight="normal" text-anchor="start" fill="#111" >GFP</text>
<line x1="131.30" y1="470.40" x2="138.90" y2="470.40" stroke="#ff4444" stroke-width="1.05"/>
<circle cx="135.10" cy="470.40" r="1.1" fill="#ff4444"/>
<text x="142.70" y="472.38" font-size="5.5" font-weight="normal" text-anchor="start" fill="#111" >Cell number</text>
<line x1="131.30" y1="478.00" x2="138.90" y2="478.00" stroke="#990099" stroke-width="1.05"/>
<circle cx="135.10" cy="478.00" r="1.1" fill="#990099"/>
<text x="142.70" y="479.98" font-size="5.5" font-weight="normal" text-anchor="start" fill="#111" >Protein content</text>
<polyline points="22.20,461.55 27.30,492.08 32.70,493.61 43.20,494.29 68.20,495.09 111.40,496.79" fill="none" stroke="#008000" stroke-width="0.8" stroke-linejoin="round"/>
<circle cx="22.20" cy="461.55" r="1.25" fill="#008000"/>
<line x1="27.30" y1="490.95" x2="27.30" y2="493.22" stroke="#008000" stroke-width="0.6"/>
<line x1="26.40" y1="490.95" x2="28.20" y2="490.95" stroke="#008000" stroke-width="0.6"/>
<line x1="26.40" y1="493.22" x2="28.20" y2="493.22" stroke="#008000" stroke-width="0.6"/>
<circle cx="27.30" cy="492.08" r="1.25" fill="#008000"/>
<line x1="32.70" y1="491.34" x2="32.70" y2="495.88" stroke="#008000" stroke-width="0.6"/>
<line x1="31.80" y1="491.34" x2="33.60" y2="491.34" stroke="#008000" stroke-width="0.6"/>
<line x1="31.80" y1="495.88" x2="33.60" y2="495.88" stroke="#008000" stroke-width="0.6"/>
<circle cx="32.70" cy="493.61" r="1.25" fill="#008000"/>
<line x1="43.20" y1="491.46" x2="43.20" y2="497.13" stroke="#008000" stroke-width="0.6"/>
<line x1="42.30" y1="491.46" x2="44.10" y2="491.46" stroke="#008000" stroke-width="0.6"/>
<line x1="42.30" y1="497.13" x2="44.10" y2="497.13" stroke="#008000" stroke-width="0.6"/>
<circle cx="43.20" cy="494.29" r="1.25" fill="#008000"/>
<line x1="68.20" y1="491.68" x2="68.20" y2="498.49" stroke="#008000" stroke-width="0.6"/>
<line x1="67.30" y1="491.68" x2="69.10" y2="491.68" stroke="#008000" stroke-width="0.6"/>
<line x1="67.30" y1="498.49" x2="69.10" y2="498.49" stroke="#008000" stroke-width="0.6"/>
<circle cx="68.20" cy="495.09" r="1.25" fill="#008000"/>
<line x1="111.40" y1="494.52" x2="111.40" y2="499.06" stroke="#008000" stroke-width="0.6"/>
<line x1="110.50" y1="494.52" x2="112.30" y2="494.52" stroke="#008000" stroke-width="0.6"/>
<line x1="110.50" y1="499.06" x2="112.30" y2="499.06" stroke="#008000" stroke-width="0.6"/>
<circle cx="111.40" cy="496.79" r="1.25" fill="#008000"/>
<polyline points="22.20,461.55 27.30,486.69 32.70,488.34 43.20,489.24 68.20,490.78 111.40,491.68" fill="none" stroke="#3030ff" stroke-width="0.8" stroke-linejoin="round"/>
<circle cx="22.20" cy="461.55" r="0.9" fill="#3030ff"/>
<line x1="27.30" y1="485.56" x2="27.30" y2="487.83" stroke="#3030ff" stroke-width="0.6"/>
<line x1="26.40" y1="485.56" x2="28.20" y2="485.56" stroke="#3030ff" stroke-width="0.6"/>
<line x1="26.40" y1="487.83" x2="28.20" y2="487.83" stroke="#3030ff" stroke-width="0.6"/>
<circle cx="27.30" cy="486.69" r="0.9" fill="#3030ff"/>
<line x1="32.70" y1="486.63" x2="32.70" y2="490.04" stroke="#3030ff" stroke-width="0.6"/>
<line x1="31.80" y1="486.63" x2="33.60" y2="486.63" stroke="#3030ff" stroke-width="0.6"/>
<line x1="31.80" y1="490.04" x2="33.60" y2="490.04" stroke="#3030ff" stroke-width="0.6"/>
<circle cx="32.70" cy="488.34" r="0.9" fill="#3030ff"/>
<line x1="43.20" y1="487.54" x2="43.20" y2="490.95" stroke="#3030ff" stroke-width="0.6"/>
<line x1="42.30" y1="487.54" x2="44.10" y2="487.54" stroke="#3030ff" stroke-width="0.6"/>
<line x1="42.30" y1="490.95" x2="44.10" y2="490.95" stroke="#3030ff" stroke-width="0.6"/>
<circle cx="43.20" cy="489.24" r="0.9" fill="#3030ff"/>
<line x1="68.20" y1="489.64" x2="68.20" y2="491.91" stroke="#3030ff" stroke-width="0.6"/>
<line x1="67.30" y1="489.64" x2="69.10" y2="489.64" stroke="#3030ff" stroke-width="0.6"/>
<line x1="67.30" y1="491.91" x2="69.10" y2="491.91" stroke="#3030ff" stroke-width="0.6"/>
<circle cx="68.20" cy="490.78" r="0.9" fill="#3030ff"/>
<line x1="111.40" y1="490.55" x2="111.40" y2="492.82" stroke="#3030ff" stroke-width="0.6"/>
<line x1="110.50" y1="490.55" x2="112.30" y2="490.55" stroke="#3030ff" stroke-width="0.6"/>
<line x1="110.50" y1="492.82" x2="112.30" y2="492.82" stroke="#3030ff" stroke-width="0.6"/>
<circle cx="111.40" cy="491.68" r="0.9" fill="#3030ff"/>
<polyline points="22.20,461.55 27.30,484.25 32.70,485.38 43.20,486.18 68.20,486.92 111.40,488.56" fill="none" stroke="#ff4444" stroke-width="0.8" stroke-linejoin="round"/>
<circle cx="22.20" cy="461.55" r="0.9" fill="#ff4444"/>
<line x1="27.30" y1="483.11" x2="27.30" y2="485.38" stroke="#ff4444" stroke-width="0.6"/>
<line x1="26.40" y1="483.11" x2="28.20" y2="483.11" stroke="#ff4444" stroke-width="0.6"/>
<line x1="26.40" y1="485.38" x2="28.20" y2="485.38" stroke="#ff4444" stroke-width="0.6"/>
<circle cx="27.30" cy="484.25" r="0.9" fill="#ff4444"/>
<line x1="32.70" y1="484.25" x2="32.70" y2="486.52" stroke="#ff4444" stroke-width="0.6"/>
<line x1="31.80" y1="484.25" x2="33.60" y2="484.25" stroke="#ff4444" stroke-width="0.6"/>
<line x1="31.80" y1="486.52" x2="33.60" y2="486.52" stroke="#ff4444" stroke-width="0.6"/>
<circle cx="32.70" cy="485.38" r="0.9" fill="#ff4444"/>
<line x1="43.20" y1="485.04" x2="43.20" y2="487.31" stroke="#ff4444" stroke-width="0.6"/>
<line x1="42.30" y1="485.04" x2="44.10" y2="485.04" stroke="#ff4444" stroke-width="0.6"/>
<line x1="42.30" y1="487.31" x2="44.10" y2="487.31" stroke="#ff4444" stroke-width="0.6"/>
<circle cx="43.20" cy="486.18" r="0.9" fill="#ff4444"/>
<line x1="68.20" y1="485.78" x2="68.20" y2="488.05" stroke="#ff4444" stroke-width="0.6"/>
<line x1="67.30" y1="485.78" x2="69.10" y2="485.78" stroke="#ff4444" stroke-width="0.6"/>
<line x1="67.30" y1="488.05" x2="69.10" y2="488.05" stroke="#ff4444" stroke-width="0.6"/>
<circle cx="68.20" cy="486.92" r="0.9" fill="#ff4444"/>
<line x1="111.40" y1="487.43" x2="111.40" y2="489.70" stroke="#ff4444" stroke-width="0.6"/>
<line x1="110.50" y1="487.43" x2="112.30" y2="487.43" stroke="#ff4444" stroke-width="0.6"/>
<line x1="110.50" y1="489.70" x2="112.30" y2="489.70" stroke="#ff4444" stroke-width="0.6"/>
<circle cx="111.40" cy="488.56" r="0.9" fill="#ff4444"/>
<polyline points="22.20,461.55 27.30,479.43 32.70,481.81 43.20,485.50 68.20,486.92 111.40,490.15" fill="none" stroke="#990099" stroke-width="0.8" stroke-linejoin="round"/>
<circle cx="22.20" cy="461.55" r="0.9" fill="#990099"/>
<line x1="27.30" y1="476.59" x2="27.30" y2="482.26" stroke="#990099" stroke-width="0.6"/>
<line x1="26.40" y1="476.59" x2="28.20" y2="476.59" stroke="#990099" stroke-width="0.6"/>
<line x1="26.40" y1="482.26" x2="28.20" y2="482.26" stroke="#990099" stroke-width="0.6"/>
<circle cx="27.30" cy="479.43" r="0.9" fill="#990099"/>
<line x1="32.70" y1="480.11" x2="32.70" y2="483.51" stroke="#990099" stroke-width="0.6"/>
<line x1="31.80" y1="480.11" x2="33.60" y2="480.11" stroke="#990099" stroke-width="0.6"/>
<line x1="31.80" y1="483.51" x2="33.60" y2="483.51" stroke="#990099" stroke-width="0.6"/>
<circle cx="32.70" cy="481.81" r="0.9" fill="#990099"/>
<line x1="43.20" y1="483.80" x2="43.20" y2="487.20" stroke="#990099" stroke-width="0.6"/>
<line x1="42.30" y1="483.80" x2="44.10" y2="483.80" stroke="#990099" stroke-width="0.6"/>
<line x1="42.30" y1="487.20" x2="44.10" y2="487.20" stroke="#990099" stroke-width="0.6"/>
<circle cx="43.20" cy="485.50" r="0.9" fill="#990099"/>
<line x1="68.20" y1="485.21" x2="68.20" y2="488.62" stroke="#990099" stroke-width="0.6"/>
<line x1="67.30" y1="485.21" x2="69.10" y2="485.21" stroke="#990099" stroke-width="0.6"/>
<line x1="67.30" y1="488.62" x2="69.10" y2="488.62" stroke="#990099" stroke-width="0.6"/>
<circle cx="68.20" cy="486.92" r="0.9" fill="#990099"/>
<line x1="111.40" y1="487.88" x2="111.40" y2="492.42" stroke="#990099" stroke-width="0.6"/>
<line x1="110.50" y1="487.88" x2="112.30" y2="487.88" stroke="#990099" stroke-width="0.6"/>
<line x1="110.50" y1="492.42" x2="112.30" y2="492.42" stroke="#990099" stroke-width="0.6"/>
<circle cx="111.40" cy="490.15" r="0.9" fill="#990099"/>
<text x="269.90" y="9.88" font-size="6.52" font-weight="bold" text-anchor="middle" fill="#111" >Transformation of NaF 4 h</text>
<line x1="218.50" y1="85.75" x2="218.50" y2="16.65" stroke="#1a1a1a" stroke-width="0.9"/>
<line x1="216.90" y1="85.30" x2="218.50" y2="85.30" stroke="#1a1a1a" stroke-width="0.7"/>
<text x="216.30" y="87.40" font-size="5.0" font-weight="bold" text-anchor="end" fill="#111" >0</text>
<line x1="216.90" y1="73.93" x2="218.50" y2="73.93" stroke="#1a1a1a" stroke-width="0.7"/>
<text x="216.30" y="76.03" font-size="5.0" font-weight="bold" text-anchor="end" fill="#111" >20</text>
<line x1="216.90" y1="62.57" x2="218.50" y2="62.57" stroke="#1a1a1a" stroke-width="0.7"/>
<text x="216.30" y="64.67" font-size="5.0" font-weight="bold" text-anchor="end" fill="#111" >40</text>
<line x1="216.90" y1="51.20" x2="218.50" y2="51.20" stroke="#1a1a1a" stroke-width="0.7"/>
<text x="216.30" y="53.30" font-size="5.0" font-weight="bold" text-anchor="end" fill="#111" >60</text>
<line x1="216.90" y1="39.84" x2="218.50" y2="39.84" stroke="#1a1a1a" stroke-width="0.7"/>
<text x="216.30" y="41.94" font-size="5.0" font-weight="bold" text-anchor="end" fill="#111" >80</text>
<line x1="216.90" y1="28.47" x2="218.50" y2="28.47" stroke="#1a1a1a" stroke-width="0.7"/>
<text x="216.30" y="30.57" font-size="5.0" font-weight="bold" text-anchor="end" fill="#111" >100</text>
<line x1="216.90" y1="17.10" x2="218.50" y2="17.10" stroke="#1a1a1a" stroke-width="0.7"/>
<text x="216.30" y="19.20" font-size="5.0" font-weight="bold" text-anchor="end" fill="#111" >120</text>
<line x1="218.05" y1="85.30" x2="320.95" y2="85.30" stroke="#1a1a1a" stroke-width="0.9"/>
<line x1="218.50" y1="85.30" x2="218.50" y2="86.90" stroke="#1a1a1a" stroke-width="0.7"/>
<text x="219.10" y="93.36" font-size="4.6" font-weight="bold" text-anchor="end" fill="#111">10</text>
<text x="219.90" y="91.66" font-size="2.7" font-weight="normal" text-anchor="start" fill="#333" style="stroke-width:0.05px">-4</text>
<line x1="223.62" y1="85.30" x2="223.62" y2="86.20" stroke="#1a1a1a" stroke-width="0.5"/>
<line x1="226.61" y1="85.30" x2="226.61" y2="86.20" stroke="#1a1a1a" stroke-width="0.5"/>
<line x1="228.74" y1="85.30" x2="228.74" y2="86.20" stroke="#1a1a1a" stroke-width="0.5"/>
<line x1="230.38" y1="85.30" x2="230.38" y2="86.20" stroke="#1a1a1a" stroke-width="0.5"/>
<line x1="231.73" y1="85.30" x2="231.73" y2="86.20" stroke="#1a1a1a" stroke-width="0.5"/>
<line x1="232.87" y1="85.30" x2="232.87" y2="86.20" stroke="#1a1a1a" stroke-width="0.5"/>
<line x1="233.85" y1="85.30" x2="233.85" y2="86.20" stroke="#1a1a1a" stroke-width="0.5"/>
<line x1="234.72" y1="85.30" x2="234.72" y2="86.20" stroke="#1a1a1a" stroke-width="0.5"/>
<line x1="235.50" y1="85.30" x2="235.50" y2="86.90" stroke="#1a1a1a" stroke-width="0.7"/>
<text x="236.10" y="93.36" font-size="4.6" font-weight="bold" text-anchor="end" fill="#111">10</text>
<text x="236.90" y="91.66" font-size="2.7" font-weight="normal" text-anchor="start" fill="#333" style="stroke-width:0.05px">-3</text>
<line x1="240.62" y1="85.30" x2="240.62" y2="86.20" stroke="#1a1a1a" stroke-width="0.5"/>
<line x1="243.61" y1="85.30" x2="243.61" y2="86.20" stroke="#1a1a1a" stroke-width="0.5"/>
<line x1="245.74" y1="85.30" x2="245.74" y2="86.20" stroke="#1a1a1a" stroke-width="0.5"/>
<line x1="247.38" y1="85.30" x2="247.38" y2="86.20" stroke="#1a1a1a" stroke-width="0.5"/>
<line x1="248.73" y1="85.30" x2="248.73" y2="86.20" stroke="#1a1a1a" stroke-width="0.5"/>
<line x1="249.87" y1="85.30" x2="249.87" y2="86.20" stroke="#1a1a1a" stroke-width="0.5"/>
<line x1="250.85" y1="85.30" x2="250.85" y2="86.20" stroke="#1a1a1a" stroke-width="0.5"/>
<line x1="251.72" y1="85.30" x2="251.72" y2="86.20" stroke="#1a1a1a" stroke-width="0.5"/>
<line x1="252.50" y1="85.30" x2="252.50" y2="86.90" stroke="#1a1a1a" stroke-width="0.7"/>
<text x="253.10" y="93.36" font-size="4.6" font-weight="bold" text-anchor="end" fill="#111">10</text>
<text x="253.90" y="91.66" font-size="2.7" font-weight="normal" text-anchor="start" fill="#333" style="stroke-width:0.05px">-2</text>
<line x1="257.62" y1="85.30" x2="257.62" y2="86.20" stroke="#1a1a1a" stroke-width="0.5"/>
<line x1="260.61" y1="85.30" x2="260.61" y2="86.20" stroke="#1a1a1a" stroke-width="0.5"/>
<line x1="262.74" y1="85.30" x2="262.74" y2="86.20" stroke="#1a1a1a" stroke-width="0.5"/>
<line x1="264.38" y1="85.30" x2="264.38" y2="86.20" stroke="#1a1a1a" stroke-width="0.5"/>
<line x1="265.73" y1="85.30" x2="265.73" y2="86.20" stroke="#1a1a1a" stroke-width="0.5"/>
<line x1="266.87" y1="85.30" x2="266.87" y2="86.20" stroke="#1a1a1a" stroke-width="0.5"/>
<line x1="267.85" y1="85.30" x2="267.85" y2="86.20" stroke="#1a1a1a" stroke-width="0.5"/>
<line x1="268.72" y1="85.30" x2="268.72" y2="86.20" stroke="#1a1a1a" stroke-width="0.5"/>
<line x1="269.50" y1="85.30" x2="269.50" y2="86.90" stroke="#1a1a1a" stroke-width="0.7"/>
<text x="270.10" y="93.36" font-size="4.6" font-weight="bold" text-anchor="end" fill="#111">10</text>
<text x="270.90" y="91.66" font-size="2.7" font-weight="normal" text-anchor="start" fill="#333" style="stroke-width:0.05px">-1</text>
<line x1="274.62" y1="85.30" x2="274.62" y2="86.20" stroke="#1a1a1a" stroke-width="0.5"/>
<line x1="277.61" y1="85.30" x2="277.61" y2="86.20" stroke="#1a1a1a" stroke-width="0.5"/>
<line x1="279.74" y1="85.30" x2="279.74" y2="86.20" stroke="#1a1a1a" stroke-width="0.5"/>
<line x1="281.38" y1="85.30" x2="281.38" y2="86.20" stroke="#1a1a1a" stroke-width="0.5"/>
<line x1="282.73" y1="85.30" x2="282.73" y2="86.20" stroke="#1a1a1a" stroke-width="0.5"/>
<line x1="283.87" y1="85.30" x2="283.87" y2="86.20" stroke="#1a1a1a" stroke-width="0.5"/>
<line x1="284.85" y1="85.30" x2="284.85" y2="86.20" stroke="#1a1a1a" stroke-width="0.5"/>
<line x1="285.72" y1="85.30" x2="285.72" y2="86.20" stroke="#1a1a1a" stroke-width="0.5"/>
<line x1="286.50" y1="85.30" x2="286.50" y2="86.90" stroke="#1a1a1a" stroke-width="0.7"/>
<text x="287.10" y="93.36" font-size="4.6" font-weight="bold" text-anchor="end" fill="#111">10</text>
<text x="287.90" y="91.66" font-size="2.7" font-weight="normal" text-anchor="start" fill="#333" style="stroke-width:0.05px">0</text>
<line x1="291.62" y1="85.30" x2="291.62" y2="86.20" stroke="#1a1a1a" stroke-width="0.5"/>
<line x1="294.61" y1="85.30" x2="294.61" y2="86.20" stroke="#1a1a1a" stroke-width="0.5"/>
<line x1="296.74" y1="85.30" x2="296.74" y2="86.20" stroke="#1a1a1a" stroke-width="0.5"/>
<line x1="298.38" y1="85.30" x2="298.38" y2="86.20" stroke="#1a1a1a" stroke-width="0.5"/>
<line x1="299.73" y1="85.30" x2="299.73" y2="86.20" stroke="#1a1a1a" stroke-width="0.5"/>
<line x1="300.87" y1="85.30" x2="300.87" y2="86.20" stroke="#1a1a1a" stroke-width="0.5"/>
<line x1="301.85" y1="85.30" x2="301.85" y2="86.20" stroke="#1a1a1a" stroke-width="0.5"/>
<line x1="302.72" y1="85.30" x2="302.72" y2="86.20" stroke="#1a1a1a" stroke-width="0.5"/>
<line x1="303.50" y1="85.30" x2="303.50" y2="86.90" stroke="#1a1a1a" stroke-width="0.7"/>
<text x="304.10" y="93.36" font-size="4.6" font-weight="bold" text-anchor="end" fill="#111">10</text>
<text x="304.90" y="91.66" font-size="2.7" font-weight="normal" text-anchor="start" fill="#333" style="stroke-width:0.05px">1</text>
<line x1="308.62" y1="85.30" x2="308.62" y2="86.20" stroke="#1a1a1a" stroke-width="0.5"/>
<line x1="311.61" y1="85.30" x2="311.61" y2="86.20" stroke="#1a1a1a" stroke-width="0.5"/>
<line x1="313.74" y1="85.30" x2="313.74" y2="86.20" stroke="#1a1a1a" stroke-width="0.5"/>
<line x1="315.38" y1="85.30" x2="315.38" y2="86.20" stroke="#1a1a1a" stroke-width="0.5"/>
<line x1="316.73" y1="85.30" x2="316.73" y2="86.20" stroke="#1a1a1a" stroke-width="0.5"/>
<line x1="317.87" y1="85.30" x2="317.87" y2="86.20" stroke="#1a1a1a" stroke-width="0.5"/>
<line x1="318.85" y1="85.30" x2="318.85" y2="86.20" stroke="#1a1a1a" stroke-width="0.5"/>
<line x1="319.72" y1="85.30" x2="319.72" y2="86.20" stroke="#1a1a1a" stroke-width="0.5"/>
<line x1="320.50" y1="85.30" x2="320.50" y2="86.90" stroke="#1a1a1a" stroke-width="0.7"/>
<text x="321.10" y="93.36" font-size="4.6" font-weight="bold" text-anchor="end" fill="#111">10</text>
<text x="321.90" y="91.66" font-size="2.7" font-weight="normal" text-anchor="start" fill="#333" style="stroke-width:0.05px">2</text>
<text x="0" y="0" font-size="5.75" font-weight="bold" text-anchor="middle" fill="#1a1a1a" style="stroke-width:0" transform="translate(205.00,51.20) rotate(-90)">In % of control mean</text>
<text x="269.5" y="99.79" font-size="5.65" font-weight="bold" text-anchor="middle" fill="#111">log<tspan font-size="3.8" dy="1.3">10</tspan><tspan dy="-1.3"> concentration of NaF (mM)</tspan></text>
<text x="275.85" y="112.85" font-size="7.7" font-weight="bold" text-anchor="middle" fill="#111" >(b)</text>
<line x1="328.00" y1="21.70" x2="335.20" y2="21.70" stroke="#1e96ff" stroke-width="1.05"/>
<circle cx="331.60" cy="21.70" r="1.1" fill="#1e96ff"/>
<text x="339.00" y="23.68" font-size="5.5" font-weight="normal" text-anchor="start" fill="#111" >ATP</text>
<line x1="328.00" y1="29.80" x2="335.20" y2="29.80" stroke="#008000" stroke-width="1.05"/>
<circle cx="331.60" cy="29.80" r="1.35" fill="#008000"/>
<text x="339.00" y="31.78" font-size="5.5" font-weight="normal" text-anchor="start" fill="#111" >GFP</text>
<line x1="328.00" y1="37.70" x2="335.20" y2="37.70" stroke="#ff4444" stroke-width="1.05"/>
<circle cx="331.60" cy="37.70" r="1.1" fill="#ff4444"/>
<text x="339.00" y="39.68" font-size="5.5" font-weight="normal" text-anchor="start" fill="#111" >Cell number</text>
<line x1="328.00" y1="45.50" x2="335.20" y2="45.50" stroke="#800080" stroke-width="1.05"/>
<circle cx="331.60" cy="45.50" r="1.1" fill="#800080"/>
<text x="339.00" y="47.48" font-size="5.5" font-weight="normal" text-anchor="start" fill="#111" >Protein content</text>
<polyline points="235.50,28.47 236.54,28.47 237.59,28.47 238.63,28.47 239.68,28.47 240.72,28.47 241.77,28.48 242.81,28.48 243.86,28.48 244.90,28.48 245.95,28.48 246.99,28.49 248.03,28.49 249.08,28.49 250.12,28.50 251.17,28.51 252.21,28.51 253.26,28.52 254.30,28.54 255.35,28.55 256.39,28.57 257.44,28.59 258.48,28.62 259.52,28.65 260.57,28.69 261.61,28.74 262.66,28.80 263.70,28.88 264.75,28.97 265.79,29.08 266.84,29.21 267.88,29.37 268.93,29.57 269.97,29.81 271.01,30.10 272.06,30.44 273.10,30.86 274.15,31.37 275.19,31.98 276.24,32.70 277.28,33.55 278.33,34.56 279.37,35.75 280.42,37.12 281.46,38.70 282.50,40.49 283.55,42.51 284.59,44.74 285.64,47.16 286.68,49.77 287.73,52.50 288.77,55.32 289.82,58.17 290.86,61.00 291.90,63.74 292.95,66.36 293.99,68.81 295.04,71.06 296.08,73.09 297.13,74.91 298.17,76.51 299.22,77.90 300.26,79.10 301.31,80.12 302.35,80.99 303.39,81.73 304.44,82.35 305.48,82.86 306.53,83.29 307.57,83.64 308.62,83.94" fill="none" stroke="#1e96ff" stroke-width="0.8" stroke-linejoin="round"/>
<circle cx="235.50" cy="28.47" r="0.9" fill="#1e96ff"/>
<circle cx="293.26" cy="67.40" r="0.9" fill="#1e96ff"/>
<circle cx="298.38" cy="76.89" r="0.9" fill="#1e96ff"/>
<circle cx="303.50" cy="82.17" r="0.9" fill="#1e96ff"/>
<circle cx="306.49" cy="83.88" r="0.9" fill="#1e96ff"/>
<circle cx="308.62" cy="84.16" r="0.9" fill="#1e96ff"/>
<polyline points="235.50,30.29 236.54,30.29 237.59,30.29 238.63,30.29 239.68,30.29 240.72,30.29 241.77,30.29 242.81,30.29 243.86,30.29 244.90,30.29 245.95,30.29 246.99,30.29 248.03,30.29 249.08,30.29 250.12,30.29 251.17,30.29 252.21,30.29 253.26,30.29 254.30,30.29 255.35,30.29 256.39,30.29 257.44,30.29 258.48,30.29 259.52,30.29 260.57,30.29 261.61,30.29 262.66,30.29 263.70,30.29 264.75,30.29 265.79,30.29 266.84,30.29 267.88,30.29 268.93,30.29 269.97,30.29 271.01,30.29 272.06,30.29 273.10,30.29 274.15,30.29 275.19,30.29 276.24,30.29 277.28,30.29 278.33,30.29 279.37,30.29 280.42,30.29 281.46,30.29 282.50,30.29 283.55,30.29 284.59,30.29 285.64,30.29 286.68,30.29 287.73,30.29 288.77,30.29 289.82,30.29 290.86,30.30 291.90,30.30 292.95,30.31 293.99,30.32 295.04,30.34 296.08,30.37 297.13,30.42 298.17,30.50 299.22,30.62 300.26,30.80 301.31,31.09 302.35,31.54 303.39,32.23 304.44,33.28 305.48,34.85 306.53,37.12 307.57,40.31 308.62,44.54" fill="none" stroke="#cc33cc" stroke-width="1.1" stroke-linejoin="round"/>
<polyline points="235.50,29.27 236.54,29.27 237.59,29.27 238.63,29.27 239.68,29.27 240.72,29.27 241.77,29.27 242.81,29.27 243.86,29.27 244.90,29.27 245.95,29.27 246.99,29.27 248.03,29.27 249.08,29.27 250.12,29.27 251.17,29.27 252.21,29.27 253.26,29.27 254.30,29.27 255.35,29.27 256.39,29.27 257.44,29.27 258.48,29.27 259.52,29.27 260.57,29.27 261.61,29.27 262.66,29.27 263.70,29.27 264.75,29.27 265.79,29.27 266.84,29.27 267.88,29.27 268.93,29.27 269.97,29.27 271.01,29.27 272.06,29.27 273.10,29.27 274.15,29.27 275.19,29.27 276.24,29.27 277.28,29.27 278.33,29.27 279.37,29.27 280.42,29.27 281.46,29.27 282.50,29.27 283.55,29.27 284.59,29.27 285.64,29.28 286.68,29.28 287.73,29.29 288.77,29.29 289.82,29.31 290.86,29.32 291.90,29.35 292.95,29.38 293.99,29.43 295.04,29.51 296.08,29.61 297.13,29.75 298.17,29.96 299.22,30.26 300.26,30.67 301.31,31.25 302.35,32.07 303.39,33.19 304.44,34.71 305.48,36.75 306.53,39.38 307.57,42.70 308.62,46.68" fill="none" stroke="#1a9a40" stroke-width="1.1" stroke-linejoin="round"/>
<polyline points="235.50,27.67 236.54,27.67 237.59,27.67 238.63,27.67 239.68,27.67 240.72,27.67 241.77,27.67 242.81,27.67 243.86,27.67 244.90,27.67 245.95,27.67 246.99,27.67 248.03,27.67 249.08,27.67 250.12,27.67 251.17,27.67 252.21,27.67 253.26,27.67 254.30,27.67 255.35,27.67 256.39,27.67 257.44,27.67 258.48,27.67 259.52,27.67 260.57,27.67 261.61,27.67 262.66,27.67 263.70,27.67 264.75,27.67 265.79,27.67 266.84,27.67 267.88,27.67 268.93,27.67 269.97,27.67 271.01,27.67 272.06,27.67 273.10,27.67 274.15,27.67 275.19,27.67 276.24,27.67 277.28,27.67 278.33,27.67 279.37,27.67 280.42,27.67 281.46,27.67 282.50,27.67 283.55,27.68 284.59,27.68 285.64,27.68 286.68,27.68 287.73,27.68 288.77,27.68 289.82,27.68 290.86,27.69 291.90,27.70 292.95,27.71 293.99,27.73 295.04,27.75 296.08,27.80 297.13,27.86 298.17,27.96 299.22,28.11 300.26,28.35 301.31,28.70 302.35,29.24 303.39,30.04 304.44,31.22 305.48,32.95 306.53,35.40 307.57,38.74 308.62,43.07" fill="none" stroke="#ff8080" stroke-width="1.1" stroke-linejoin="round"/>
<line x1="293.26" y1="28.41" x2="293.26" y2="30.12" stroke="#008000" stroke-width="0.6"/>
<line x1="292.36" y1="28.41" x2="294.16" y2="28.41" stroke="#008000" stroke-width="0.6"/>
<line x1="292.36" y1="30.12" x2="294.16" y2="30.12" stroke="#008000" stroke-width="0.6"/>
<circle cx="293.26" cy="29.27" r="1.2" fill="#008000"/>
<line x1="298.38" y1="28.41" x2="298.38" y2="30.12" stroke="#008000" stroke-width="0.6"/>
<line x1="297.48" y1="28.41" x2="299.28" y2="28.41" stroke="#008000" stroke-width="0.6"/>
<line x1="297.48" y1="30.12" x2="299.28" y2="30.12" stroke="#008000" stroke-width="0.6"/>
<circle cx="298.38" cy="29.27" r="1.2" fill="#008000"/>
<line x1="303.50" y1="29.61" x2="303.50" y2="33.02" stroke="#008000" stroke-width="0.6"/>
<line x1="302.60" y1="29.61" x2="304.40" y2="29.61" stroke="#008000" stroke-width="0.6"/>
<line x1="302.60" y1="33.02" x2="304.40" y2="33.02" stroke="#008000" stroke-width="0.6"/>
<circle cx="303.50" cy="31.31" r="1.2" fill="#008000"/>
<line x1="306.49" y1="36.99" x2="306.49" y2="41.54" stroke="#008000" stroke-width="0.6"/>
<line x1="305.59" y1="36.99" x2="307.39" y2="36.99" stroke="#008000" stroke-width="0.6"/>
<line x1="305.59" y1="41.54" x2="307.39" y2="41.54" stroke="#008000" stroke-width="0.6"/>
<circle cx="306.49" cy="39.27" r="1.2" fill="#008000"/>
<line x1="308.62" y1="45.18" x2="308.62" y2="48.59" stroke="#008000" stroke-width="0.6"/>
<line x1="307.72" y1="45.18" x2="309.52" y2="45.18" stroke="#008000" stroke-width="0.6"/>
<line x1="307.72" y1="48.59" x2="309.52" y2="48.59" stroke="#008000" stroke-width="0.6"/>
<circle cx="308.62" cy="46.88" r="1.2" fill="#008000"/>
<line x1="293.26" y1="25.69" x2="293.26" y2="29.66" stroke="#ff4444" stroke-width="0.6"/>
<line x1="292.36" y1="25.69" x2="294.16" y2="25.69" stroke="#ff4444" stroke-width="0.6"/>
<line x1="292.36" y1="29.66" x2="294.16" y2="29.66" stroke="#ff4444" stroke-width="0.6"/>
<circle cx="293.26" cy="27.67" r="0.9" fill="#ff4444"/>
<line x1="298.38" y1="25.40" x2="298.38" y2="29.95" stroke="#ff4444" stroke-width="0.6"/>
<line x1="297.48" y1="25.40" x2="299.28" y2="25.40" stroke="#ff4444" stroke-width="0.6"/>
<line x1="297.48" y1="29.95" x2="299.28" y2="29.95" stroke="#ff4444" stroke-width="0.6"/>
<circle cx="298.38" cy="27.67" r="0.9" fill="#ff4444"/>
<line x1="303.50" y1="27.90" x2="303.50" y2="32.45" stroke="#ff4444" stroke-width="0.6"/>
<line x1="302.60" y1="27.90" x2="304.40" y2="27.90" stroke="#ff4444" stroke-width="0.6"/>
<line x1="302.60" y1="32.45" x2="304.40" y2="32.45" stroke="#ff4444" stroke-width="0.6"/>
<circle cx="303.50" cy="30.17" r="0.9" fill="#ff4444"/>
<line x1="306.49" y1="29.61" x2="306.49" y2="40.97" stroke="#ff4444" stroke-width="0.6"/>
<line x1="305.59" y1="29.61" x2="307.39" y2="29.61" stroke="#ff4444" stroke-width="0.6"/>
<line x1="305.59" y1="40.97" x2="307.39" y2="40.97" stroke="#ff4444" stroke-width="0.6"/>
<circle cx="306.49" cy="35.29" r="0.9" fill="#ff4444"/>
<line x1="308.62" y1="36.43" x2="308.62" y2="48.93" stroke="#ff4444" stroke-width="0.6"/>
<line x1="307.72" y1="36.43" x2="309.52" y2="36.43" stroke="#ff4444" stroke-width="0.6"/>
<line x1="307.72" y1="48.93" x2="309.52" y2="48.93" stroke="#ff4444" stroke-width="0.6"/>
<circle cx="308.62" cy="42.68" r="0.9" fill="#ff4444"/>
<line x1="293.26" y1="26.20" x2="293.26" y2="34.15" stroke="#800080" stroke-width="0.6"/>
<line x1="292.36" y1="26.20" x2="294.16" y2="26.20" stroke="#800080" stroke-width="0.6"/>
<line x1="292.36" y1="34.15" x2="294.16" y2="34.15" stroke="#800080" stroke-width="0.6"/>
<circle cx="293.26" cy="30.17" r="0.9" fill="#800080"/>
<line x1="298.38" y1="26.48" x2="298.38" y2="33.87" stroke="#800080" stroke-width="0.6"/>
<line x1="297.48" y1="26.48" x2="299.28" y2="26.48" stroke="#800080" stroke-width="0.6"/>
<line x1="297.48" y1="33.87" x2="299.28" y2="33.87" stroke="#800080" stroke-width="0.6"/>
<circle cx="298.38" cy="30.17" r="0.9" fill="#800080"/>
<line x1="303.50" y1="27.62" x2="303.50" y2="37.28" stroke="#800080" stroke-width="0.6"/>
<line x1="302.60" y1="27.62" x2="304.40" y2="27.62" stroke="#800080" stroke-width="0.6"/>
<line x1="302.60" y1="37.28" x2="304.40" y2="37.28" stroke="#800080" stroke-width="0.6"/>
<circle cx="303.50" cy="32.45" r="0.9" fill="#800080"/>
<line x1="306.49" y1="33.58" x2="306.49" y2="40.40" stroke="#800080" stroke-width="0.6"/>
<line x1="305.59" y1="33.58" x2="307.39" y2="33.58" stroke="#800080" stroke-width="0.6"/>
<line x1="305.59" y1="40.40" x2="307.39" y2="40.40" stroke="#800080" stroke-width="0.6"/>
<circle cx="306.49" cy="36.99" r="0.9" fill="#800080"/>
<line x1="308.62" y1="40.97" x2="308.62" y2="47.79" stroke="#800080" stroke-width="0.6"/>
<line x1="307.72" y1="40.97" x2="309.52" y2="40.97" stroke="#800080" stroke-width="0.6"/>
<line x1="307.72" y1="47.79" x2="309.52" y2="47.79" stroke="#800080" stroke-width="0.6"/>
<circle cx="308.62" cy="44.38" r="0.9" fill="#800080"/>
<circle cx="235.50" cy="28.70" r="1.1" fill="#441133"/>
<text x="270.15" y="153.63" font-size="6.52" font-weight="bold" text-anchor="middle" fill="#111" >Transformation of OTA 4 h</text>
<line x1="218.50" y1="230.05" x2="218.50" y2="160.55" stroke="#1a1a1a" stroke-width="0.9"/>
<line x1="216.90" y1="229.60" x2="218.50" y2="229.60" stroke="#1a1a1a" stroke-width="0.7"/>
<text x="216.30" y="231.70" font-size="5.0" font-weight="bold" text-anchor="end" fill="#111" >40</text>
<line x1="216.90" y1="212.45" x2="218.50" y2="212.45" stroke="#1a1a1a" stroke-width="0.7"/>
<text x="216.30" y="214.55" font-size="5.0" font-weight="bold" text-anchor="end" fill="#111" >60</text>
<line x1="216.90" y1="195.30" x2="218.50" y2="195.30" stroke="#1a1a1a" stroke-width="0.7"/>
<text x="216.30" y="197.40" font-size="5.0" font-weight="bold" text-anchor="end" fill="#111" >80</text>
<line x1="216.90" y1="178.15" x2="218.50" y2="178.15" stroke="#1a1a1a" stroke-width="0.7"/>
<text x="216.30" y="180.25" font-size="5.0" font-weight="bold" text-anchor="end" fill="#111" >100</text>
<line x1="216.90" y1="161.00" x2="218.50" y2="161.00" stroke="#1a1a1a" stroke-width="0.7"/>
<text x="216.30" y="163.10" font-size="5.0" font-weight="bold" text-anchor="end" fill="#111" >120</text>
<line x1="218.05" y1="229.60" x2="320.95" y2="229.60" stroke="#1a1a1a" stroke-width="0.9"/>
<line x1="218.50" y1="229.60" x2="218.50" y2="231.20" stroke="#1a1a1a" stroke-width="0.7"/>
<text x="219.10" y="237.66" font-size="4.6" font-weight="bold" text-anchor="end" fill="#111">10</text>
<text x="219.90" y="235.96" font-size="2.7" font-weight="normal" text-anchor="start" fill="#333" style="stroke-width:0.05px">-4</text>
<line x1="223.62" y1="229.60" x2="223.62" y2="230.50" stroke="#1a1a1a" stroke-width="0.5"/>
<line x1="226.61" y1="229.60" x2="226.61" y2="230.50" stroke="#1a1a1a" stroke-width="0.5"/>
<line x1="228.74" y1="229.60" x2="228.74" y2="230.50" stroke="#1a1a1a" stroke-width="0.5"/>
<line x1="230.38" y1="229.60" x2="230.38" y2="230.50" stroke="#1a1a1a" stroke-width="0.5"/>
<line x1="231.73" y1="229.60" x2="231.73" y2="230.50" stroke="#1a1a1a" stroke-width="0.5"/>
<line x1="232.87" y1="229.60" x2="232.87" y2="230.50" stroke="#1a1a1a" stroke-width="0.5"/>
<line x1="233.85" y1="229.60" x2="233.85" y2="230.50" stroke="#1a1a1a" stroke-width="0.5"/>
<line x1="234.72" y1="229.60" x2="234.72" y2="230.50" stroke="#1a1a1a" stroke-width="0.5"/>
<line x1="235.50" y1="229.60" x2="235.50" y2="231.20" stroke="#1a1a1a" stroke-width="0.7"/>
<text x="236.10" y="237.66" font-size="4.6" font-weight="bold" text-anchor="end" fill="#111">10</text>
<text x="236.90" y="235.96" font-size="2.7" font-weight="normal" text-anchor="start" fill="#333" style="stroke-width:0.05px">-3</text>
<line x1="240.62" y1="229.60" x2="240.62" y2="230.50" stroke="#1a1a1a" stroke-width="0.5"/>
<line x1="243.61" y1="229.60" x2="243.61" y2="230.50" stroke="#1a1a1a" stroke-width="0.5"/>
<line x1="245.74" y1="229.60" x2="245.74" y2="230.50" stroke="#1a1a1a" stroke-width="0.5"/>
<line x1="247.38" y1="229.60" x2="247.38" y2="230.50" stroke="#1a1a1a" stroke-width="0.5"/>
<line x1="248.73" y1="229.60" x2="248.73" y2="230.50" stroke="#1a1a1a" stroke-width="0.5"/>
<line x1="249.87" y1="229.60" x2="249.87" y2="230.50" stroke="#1a1a1a" stroke-width="0.5"/>
<line x1="250.85" y1="229.60" x2="250.85" y2="230.50" stroke="#1a1a1a" stroke-width="0.5"/>
<line x1="251.72" y1="229.60" x2="251.72" y2="230.50" stroke="#1a1a1a" stroke-width="0.5"/>
<line x1="252.50" y1="229.60" x2="252.50" y2="231.20" stroke="#1a1a1a" stroke-width="0.7"/>
<text x="253.10" y="237.66" font-size="4.6" font-weight="bold" text-anchor="end" fill="#111">10</text>
<text x="253.90" y="235.96" font-size="2.7" font-weight="normal" text-anchor="start" fill="#333" style="stroke-width:0.05px">-2</text>
<line x1="257.62" y1="229.60" x2="257.62" y2="230.50" stroke="#1a1a1a" stroke-width="0.5"/>
<line x1="260.61" y1="229.60" x2="260.61" y2="230.50" stroke="#1a1a1a" stroke-width="0.5"/>
<line x1="262.74" y1="229.60" x2="262.74" y2="230.50" stroke="#1a1a1a" stroke-width="0.5"/>
<line x1="264.38" y1="229.60" x2="264.38" y2="230.50" stroke="#1a1a1a" stroke-width="0.5"/>
<line x1="265.73" y1="229.60" x2="265.73" y2="230.50" stroke="#1a1a1a" stroke-width="0.5"/>
<line x1="266.87" y1="229.60" x2="266.87" y2="230.50" stroke="#1a1a1a" stroke-width="0.5"/>
<line x1="267.85" y1="229.60" x2="267.85" y2="230.50" stroke="#1a1a1a" stroke-width="0.5"/>
<line x1="268.72" y1="229.60" x2="268.72" y2="230.50" stroke="#1a1a1a" stroke-width="0.5"/>
<line x1="269.50" y1="229.60" x2="269.50" y2="231.20" stroke="#1a1a1a" stroke-width="0.7"/>
<text x="270.10" y="237.66" font-size="4.6" font-weight="bold" text-anchor="end" fill="#111">10</text>
<text x="270.90" y="235.96" font-size="2.7" font-weight="normal" text-anchor="start" fill="#333" style="stroke-width:0.05px">-1</text>
<line x1="274.62" y1="229.60" x2="274.62" y2="230.50" stroke="#1a1a1a" stroke-width="0.5"/>
<line x1="277.61" y1="229.60" x2="277.61" y2="230.50" stroke="#1a1a1a" stroke-width="0.5"/>
<line x1="279.74" y1="229.60" x2="279.74" y2="230.50" stroke="#1a1a1a" stroke-width="0.5"/>
<line x1="281.38" y1="229.60" x2="281.38" y2="230.50" stroke="#1a1a1a" stroke-width="0.5"/>
<line x1="282.73" y1="229.60" x2="282.73" y2="230.50" stroke="#1a1a1a" stroke-width="0.5"/>
<line x1="283.87" y1="229.60" x2="283.87" y2="230.50" stroke="#1a1a1a" stroke-width="0.5"/>
<line x1="284.85" y1="229.60" x2="284.85" y2="230.50" stroke="#1a1a1a" stroke-width="0.5"/>
<line x1="285.72" y1="229.60" x2="285.72" y2="230.50" stroke="#1a1a1a" stroke-width="0.5"/>
<line x1="286.50" y1="229.60" x2="286.50" y2="231.20" stroke="#1a1a1a" stroke-width="0.7"/>
<text x="287.10" y="237.66" font-size="4.6" font-weight="bold" text-anchor="end" fill="#111">10</text>
<text x="287.90" y="235.96" font-size="2.7" font-weight="normal" text-anchor="start" fill="#333" style="stroke-width:0.05px">0</text>
<line x1="291.62" y1="229.60" x2="291.62" y2="230.50" stroke="#1a1a1a" stroke-width="0.5"/>
<line x1="294.61" y1="229.60" x2="294.61" y2="230.50" stroke="#1a1a1a" stroke-width="0.5"/>
<line x1="296.74" y1="229.60" x2="296.74" y2="230.50" stroke="#1a1a1a" stroke-width="0.5"/>
<line x1="298.38" y1="229.60" x2="298.38" y2="230.50" stroke="#1a1a1a" stroke-width="0.5"/>
<line x1="299.73" y1="229.60" x2="299.73" y2="230.50" stroke="#1a1a1a" stroke-width="0.5"/>
<line x1="300.87" y1="229.60" x2="300.87" y2="230.50" stroke="#1a1a1a" stroke-width="0.5"/>
<line x1="301.85" y1="229.60" x2="301.85" y2="230.50" stroke="#1a1a1a" stroke-width="0.5"/>
<line x1="302.72" y1="229.60" x2="302.72" y2="230.50" stroke="#1a1a1a" stroke-width="0.5"/>
<line x1="303.50" y1="229.60" x2="303.50" y2="231.20" stroke="#1a1a1a" stroke-width="0.7"/>
<text x="304.10" y="237.66" font-size="4.6" font-weight="bold" text-anchor="end" fill="#111">10</text>
<text x="304.90" y="235.96" font-size="2.7" font-weight="normal" text-anchor="start" fill="#333" style="stroke-width:0.05px">1</text>
<line x1="308.62" y1="229.60" x2="308.62" y2="230.50" stroke="#1a1a1a" stroke-width="0.5"/>
<line x1="311.61" y1="229.60" x2="311.61" y2="230.50" stroke="#1a1a1a" stroke-width="0.5"/>
<line x1="313.74" y1="229.60" x2="313.74" y2="230.50" stroke="#1a1a1a" stroke-width="0.5"/>
<line x1="315.38" y1="229.60" x2="315.38" y2="230.50" stroke="#1a1a1a" stroke-width="0.5"/>
<line x1="316.73" y1="229.60" x2="316.73" y2="230.50" stroke="#1a1a1a" stroke-width="0.5"/>
<line x1="317.87" y1="229.60" x2="317.87" y2="230.50" stroke="#1a1a1a" stroke-width="0.5"/>
<line x1="318.85" y1="229.60" x2="318.85" y2="230.50" stroke="#1a1a1a" stroke-width="0.5"/>
<line x1="319.72" y1="229.60" x2="319.72" y2="230.50" stroke="#1a1a1a" stroke-width="0.5"/>
<line x1="320.50" y1="229.60" x2="320.50" y2="231.20" stroke="#1a1a1a" stroke-width="0.7"/>
<text x="321.10" y="237.66" font-size="4.6" font-weight="bold" text-anchor="end" fill="#111">10</text>
<text x="321.90" y="235.96" font-size="2.7" font-weight="normal" text-anchor="start" fill="#333" style="stroke-width:0.05px">2</text>
<text x="0" y="0" font-size="5.75" font-weight="bold" text-anchor="middle" fill="#1a1a1a" style="stroke-width:0" transform="translate(205.00,195.30) rotate(-90)">In % of control mean</text>
<text x="269.1" y="243.79" font-size="5.65" font-weight="bold" text-anchor="middle" fill="#111">log<tspan font-size="3.8" dy="1.3">10</tspan><tspan dy="-1.3"> concentration of OTA (μM)</tspan></text>
<text x="275.25" y="257.20" font-size="7.7" font-weight="bold" text-anchor="middle" fill="#111" >(d)</text>
<line x1="328.00" y1="165.90" x2="335.20" y2="165.90" stroke="#3030ff" stroke-width="1.05"/>
<circle cx="331.60" cy="165.90" r="1.1" fill="#3030ff"/>
<text x="339.00" y="167.88" font-size="5.5" font-weight="normal" text-anchor="start" fill="#111" >ATP</text>
<line x1="328.00" y1="173.80" x2="335.20" y2="173.80" stroke="#008000" stroke-width="1.05"/>
<circle cx="331.60" cy="173.80" r="1.35" fill="#008000"/>
<text x="339.00" y="175.78" font-size="5.5" font-weight="normal" text-anchor="start" fill="#111" >GFP</text>
<line x1="328.00" y1="181.60" x2="335.20" y2="181.60" stroke="#ff1a1a" stroke-width="1.05"/>
<circle cx="331.60" cy="181.60" r="1.1" fill="#ff1a1a"/>
<text x="339.00" y="183.58" font-size="5.5" font-weight="normal" text-anchor="start" fill="#111" >Cell number</text>
<line x1="328.00" y1="189.40" x2="335.20" y2="189.40" stroke="#990099" stroke-width="1.05"/>
<circle cx="331.60" cy="189.40" r="1.1" fill="#990099"/>
<text x="339.00" y="191.38" font-size="5.5" font-weight="normal" text-anchor="start" fill="#111" >Protein content</text>
<polyline points="235.50,178.75 236.54,178.75 237.59,178.75 238.63,178.75 239.68,178.75 240.72,178.75 241.77,178.75 242.81,178.75 243.86,178.75 244.90,178.75 245.95,178.75 246.99,178.75 248.03,178.75 249.08,178.76 250.12,178.76 251.17,178.76 252.21,178.76 253.26,178.76 254.30,178.76 255.35,178.76 256.39,178.76 257.44,178.77 258.48,178.77 259.52,178.77 260.57,178.78 261.61,178.78 262.66,178.78 263.70,178.79 264.75,178.80 265.79,178.80 266.84,178.81 267.88,178.82 268.93,178.83 269.97,178.85 271.01,178.86 272.06,178.88 273.10,178.90 274.15,178.93 275.19,178.96 276.24,178.99 277.28,179.03 278.33,179.07 279.37,179.12 280.42,179.19 281.46,179.26 282.50,179.34 283.55,179.43 284.59,179.54 285.64,179.67 286.68,179.82 287.73,179.99 288.77,180.18 289.82,180.41 290.86,180.68 291.90,180.98 292.95,181.33 293.99,181.74 295.04,182.20 296.08,182.74 297.13,183.35 298.17,184.05 299.22,184.85 300.26,185.76 301.31,186.79 302.35,187.95 303.39,189.26 304.44,190.73 305.48,192.37 306.53,194.18 307.57,196.17 308.62,198.35" fill="none" stroke="#b050e0" stroke-width="1.1" stroke-linejoin="round"/>
<polyline points="281.40,178.66 282.08,178.71 282.76,178.77 283.44,178.83 284.12,178.90 284.80,178.98 285.48,179.07 286.16,179.16 286.84,179.26 287.52,179.38 288.20,179.50 288.88,179.64 289.57,179.79 290.25,179.96 290.93,180.14 291.61,180.34 292.29,180.56 292.97,180.80 293.65,181.07 294.33,181.36 295.01,181.68 295.69,182.03 296.37,182.41 297.05,182.83 297.73,183.29 298.41,183.78 299.09,184.33 299.77,184.91 300.45,185.56 301.13,186.25 301.81,187.00 302.49,187.82 303.17,188.70 303.85,189.64 304.53,190.66 305.22,191.75 305.90,192.92 306.58,194.16 307.26,195.49 307.94,196.89 308.62,198.37" fill="none" stroke="#008000" stroke-width="0.8" stroke-linejoin="round"/>
<polyline points="281.40,178.65 282.08,178.71 282.76,178.76 283.44,178.83 284.12,178.89 284.80,178.97 285.48,179.05 286.16,179.15 286.84,179.25 287.52,179.36 288.20,179.48 288.88,179.62 289.57,179.77 290.25,179.93 290.93,180.11 291.61,180.30 292.29,180.52 292.97,180.76 293.65,181.02 294.33,181.30 295.01,181.61 295.69,181.95 296.37,182.33 297.05,182.73 297.73,183.18 298.41,183.66 299.09,184.19 299.77,184.76 300.45,185.39 301.13,186.06 301.81,186.80 302.49,187.59 303.17,188.45 303.85,189.37 304.53,190.36 305.22,191.42 305.90,192.56 306.58,193.77 307.26,195.07 307.94,196.44 308.62,197.89" fill="none" stroke="#2a0a3a" stroke-width="0.8" stroke-linejoin="round"/>
<polyline points="235.50,178.15 236.54,178.15 237.59,178.15 238.63,178.15 239.68,178.15 240.72,178.15 241.77,178.15 242.81,178.15 243.86,178.15 244.90,178.15 245.95,178.15 246.99,178.15 248.03,178.15 249.08,178.15 250.12,178.15 251.17,178.15 252.21,178.15 253.26,178.15 254.30,178.15 255.35,178.15 256.39,178.15 257.44,178.15 258.48,178.15 259.52,178.15 260.57,178.15 261.61,178.15 262.66,178.15 263.70,178.15 264.75,178.15 265.79,178.15 266.84,178.15 267.88,178.15 268.93,178.15 269.97,178.15 271.01,178.16 272.06,178.16 273.10,178.16 274.15,178.16 275.19,178.16 276.24,178.17 277.28,178.17 278.33,178.17 279.37,178.18 280.42,178.19 281.46,178.19 282.50,178.21 283.55,178.22 284.59,178.23 285.64,178.25 286.68,178.28 287.73,178.31 288.77,178.35 289.82,178.39 290.86,178.45 291.90,178.52 292.95,178.61 293.99,178.72 295.04,178.85 296.08,179.02 297.13,179.22 298.17,179.47 299.22,179.77 300.26,180.15 301.31,180.61 302.35,181.17 303.39,181.85 304.44,182.68 305.48,183.68 306.53,184.89 307.57,186.33 308.62,188.04" fill="none" stroke="#f01848" stroke-width="1.0" stroke-linejoin="round"/>
<line x1="298.38" y1="179.01" x2="298.38" y2="189.30" stroke="#008000" stroke-width="0.6"/>
<line x1="297.48" y1="179.01" x2="299.28" y2="179.01" stroke="#008000" stroke-width="0.6"/>
<line x1="297.48" y1="189.30" x2="299.28" y2="189.30" stroke="#008000" stroke-width="0.6"/>
<circle cx="298.38" cy="184.15" r="1.2" fill="#008000"/>
<line x1="305.15" y1="185.87" x2="305.15" y2="194.44" stroke="#008000" stroke-width="0.6"/>
<line x1="304.25" y1="185.87" x2="306.05" y2="185.87" stroke="#008000" stroke-width="0.6"/>
<line x1="304.25" y1="194.44" x2="306.05" y2="194.44" stroke="#008000" stroke-width="0.6"/>
<circle cx="305.15" cy="190.16" r="1.2" fill="#008000"/>
<line x1="308.62" y1="190.16" x2="308.62" y2="207.31" stroke="#008000" stroke-width="0.6"/>
<line x1="307.72" y1="190.16" x2="309.52" y2="190.16" stroke="#008000" stroke-width="0.6"/>
<line x1="307.72" y1="207.31" x2="309.52" y2="207.31" stroke="#008000" stroke-width="0.6"/>
<circle cx="308.62" cy="198.73" r="1.2" fill="#008000"/>
<line x1="298.38" y1="179.87" x2="298.38" y2="185.01" stroke="#3030ff" stroke-width="0.6"/>
<line x1="297.48" y1="179.87" x2="299.28" y2="179.87" stroke="#3030ff" stroke-width="0.6"/>
<line x1="297.48" y1="185.01" x2="299.28" y2="185.01" stroke="#3030ff" stroke-width="0.6"/>
<circle cx="298.38" cy="182.44" r="0.9" fill="#3030ff"/>
<line x1="305.15" y1="179.01" x2="305.15" y2="194.44" stroke="#3030ff" stroke-width="0.6"/>
<line x1="304.25" y1="179.01" x2="306.05" y2="179.01" stroke="#3030ff" stroke-width="0.6"/>
<line x1="304.25" y1="194.44" x2="306.05" y2="194.44" stroke="#3030ff" stroke-width="0.6"/>
<circle cx="305.15" cy="186.72" r="0.9" fill="#3030ff"/>
<line x1="308.62" y1="190.16" x2="308.62" y2="200.44" stroke="#3030ff" stroke-width="0.6"/>
<line x1="307.72" y1="190.16" x2="309.52" y2="190.16" stroke="#3030ff" stroke-width="0.6"/>
<line x1="307.72" y1="200.44" x2="309.52" y2="200.44" stroke="#3030ff" stroke-width="0.6"/>
<circle cx="308.62" cy="195.30" r="0.9" fill="#3030ff"/>
<line x1="298.38" y1="174.81" x2="298.38" y2="184.24" stroke="#ff1a1a" stroke-width="0.6"/>
<line x1="297.48" y1="174.81" x2="299.28" y2="174.81" stroke="#ff1a1a" stroke-width="0.6"/>
<line x1="297.48" y1="184.24" x2="299.28" y2="184.24" stroke="#ff1a1a" stroke-width="0.6"/>
<circle cx="298.38" cy="179.52" r="0.9" fill="#ff1a1a"/>
<line x1="305.15" y1="170.86" x2="305.15" y2="199.16" stroke="#ff1a1a" stroke-width="0.6"/>
<line x1="304.25" y1="170.86" x2="306.05" y2="170.86" stroke="#ff1a1a" stroke-width="0.6"/>
<line x1="304.25" y1="199.16" x2="306.05" y2="199.16" stroke="#ff1a1a" stroke-width="0.6"/>
<circle cx="305.15" cy="185.01" r="0.9" fill="#ff1a1a"/>
<line x1="308.62" y1="179.44" x2="308.62" y2="207.73" stroke="#ff1a1a" stroke-width="0.6"/>
<line x1="307.72" y1="179.44" x2="309.52" y2="179.44" stroke="#ff1a1a" stroke-width="0.6"/>
<line x1="307.72" y1="207.73" x2="309.52" y2="207.73" stroke="#ff1a1a" stroke-width="0.6"/>
<circle cx="308.62" cy="193.58" r="0.9" fill="#ff1a1a"/>
<line x1="298.38" y1="181.07" x2="298.38" y2="186.21" stroke="#300030" stroke-width="0.6"/>
<line x1="297.48" y1="181.07" x2="299.28" y2="181.07" stroke="#300030" stroke-width="0.6"/>
<line x1="297.48" y1="186.21" x2="299.28" y2="186.21" stroke="#300030" stroke-width="0.6"/>
<circle cx="298.38" cy="183.64" r="0.9" fill="#300030"/>
<line x1="305.15" y1="185.52" x2="305.15" y2="194.10" stroke="#300030" stroke-width="0.6"/>
<line x1="304.25" y1="185.52" x2="306.05" y2="185.52" stroke="#300030" stroke-width="0.6"/>
<line x1="304.25" y1="194.10" x2="306.05" y2="194.10" stroke="#300030" stroke-width="0.6"/>
<circle cx="305.15" cy="189.81" r="0.9" fill="#300030"/>
<line x1="308.62" y1="193.58" x2="308.62" y2="202.16" stroke="#300030" stroke-width="0.6"/>
<line x1="307.72" y1="193.58" x2="309.52" y2="193.58" stroke="#300030" stroke-width="0.6"/>
<line x1="307.72" y1="202.16" x2="309.52" y2="202.16" stroke="#300030" stroke-width="0.6"/>
<circle cx="308.62" cy="197.87" r="0.9" fill="#300030"/>
<circle cx="235.50" cy="178.15" r="1.1" fill="#220011"/>
<text x="270.10" y="298.03" font-size="6.52" font-weight="bold" text-anchor="middle" fill="#111" >Transformation of CHX 4 h</text>
<line x1="218.50" y1="373.55" x2="218.50" y2="304.85" stroke="#1a1a1a" stroke-width="0.9"/>
<line x1="216.90" y1="373.10" x2="218.50" y2="373.10" stroke="#1a1a1a" stroke-width="0.7"/>
<text x="216.30" y="375.20" font-size="5.0" font-weight="bold" text-anchor="end" fill="#111" >40</text>
<line x1="216.90" y1="359.54" x2="218.50" y2="359.54" stroke="#1a1a1a" stroke-width="0.7"/>
<text x="216.30" y="361.64" font-size="5.0" font-weight="bold" text-anchor="end" fill="#111" >60</text>
<line x1="216.90" y1="345.98" x2="218.50" y2="345.98" stroke="#1a1a1a" stroke-width="0.7"/>
<text x="216.30" y="348.08" font-size="5.0" font-weight="bold" text-anchor="end" fill="#111" >80</text>
<line x1="216.90" y1="332.42" x2="218.50" y2="332.42" stroke="#1a1a1a" stroke-width="0.7"/>
<text x="216.30" y="334.52" font-size="5.0" font-weight="bold" text-anchor="end" fill="#111" >100</text>
<line x1="216.90" y1="318.86" x2="218.50" y2="318.86" stroke="#1a1a1a" stroke-width="0.7"/>
<text x="216.30" y="320.96" font-size="5.0" font-weight="bold" text-anchor="end" fill="#111" >120</text>
<line x1="216.90" y1="305.30" x2="218.50" y2="305.30" stroke="#1a1a1a" stroke-width="0.7"/>
<text x="216.30" y="307.40" font-size="5.0" font-weight="bold" text-anchor="end" fill="#111" >140</text>
<line x1="218.05" y1="373.10" x2="320.55" y2="373.10" stroke="#1a1a1a" stroke-width="0.9"/>
<line x1="218.50" y1="373.10" x2="218.50" y2="374.70" stroke="#1a1a1a" stroke-width="0.7"/>
<text x="219.10" y="381.16" font-size="4.6" font-weight="bold" text-anchor="end" fill="#111">10</text>
<text x="219.90" y="379.46" font-size="2.7" font-weight="normal" text-anchor="start" fill="#333" style="stroke-width:0.05px">-4</text>
<line x1="226.15" y1="373.10" x2="226.15" y2="374.00" stroke="#1a1a1a" stroke-width="0.5"/>
<line x1="230.62" y1="373.10" x2="230.62" y2="374.00" stroke="#1a1a1a" stroke-width="0.5"/>
<line x1="233.79" y1="373.10" x2="233.79" y2="374.00" stroke="#1a1a1a" stroke-width="0.5"/>
<line x1="236.25" y1="373.10" x2="236.25" y2="374.00" stroke="#1a1a1a" stroke-width="0.5"/>
<line x1="238.27" y1="373.10" x2="238.27" y2="374.00" stroke="#1a1a1a" stroke-width="0.5"/>
<line x1="239.97" y1="373.10" x2="239.97" y2="374.00" stroke="#1a1a1a" stroke-width="0.5"/>
<line x1="241.44" y1="373.10" x2="241.44" y2="374.00" stroke="#1a1a1a" stroke-width="0.5"/>
<line x1="242.74" y1="373.10" x2="242.74" y2="374.00" stroke="#1a1a1a" stroke-width="0.5"/>
<line x1="243.90" y1="373.10" x2="243.90" y2="374.70" stroke="#1a1a1a" stroke-width="0.7"/>
<text x="244.50" y="381.16" font-size="4.6" font-weight="bold" text-anchor="end" fill="#111">10</text>
<text x="245.30" y="379.46" font-size="2.7" font-weight="normal" text-anchor="start" fill="#333" style="stroke-width:0.05px">-3</text>
<line x1="251.55" y1="373.10" x2="251.55" y2="374.00" stroke="#1a1a1a" stroke-width="0.5"/>
<line x1="256.02" y1="373.10" x2="256.02" y2="374.00" stroke="#1a1a1a" stroke-width="0.5"/>
<line x1="259.19" y1="373.10" x2="259.19" y2="374.00" stroke="#1a1a1a" stroke-width="0.5"/>
<line x1="261.65" y1="373.10" x2="261.65" y2="374.00" stroke="#1a1a1a" stroke-width="0.5"/>
<line x1="263.67" y1="373.10" x2="263.67" y2="374.00" stroke="#1a1a1a" stroke-width="0.5"/>
<line x1="265.37" y1="373.10" x2="265.37" y2="374.00" stroke="#1a1a1a" stroke-width="0.5"/>
<line x1="266.84" y1="373.10" x2="266.84" y2="374.00" stroke="#1a1a1a" stroke-width="0.5"/>
<line x1="268.14" y1="373.10" x2="268.14" y2="374.00" stroke="#1a1a1a" stroke-width="0.5"/>
<line x1="269.30" y1="373.10" x2="269.30" y2="374.70" stroke="#1a1a1a" stroke-width="0.7"/>
<text x="269.90" y="381.16" font-size="4.6" font-weight="bold" text-anchor="end" fill="#111">10</text>
<text x="270.70" y="379.46" font-size="2.7" font-weight="normal" text-anchor="start" fill="#333" style="stroke-width:0.05px">-2</text>
<line x1="276.95" y1="373.10" x2="276.95" y2="374.00" stroke="#1a1a1a" stroke-width="0.5"/>
<line x1="281.42" y1="373.10" x2="281.42" y2="374.00" stroke="#1a1a1a" stroke-width="0.5"/>
<line x1="284.59" y1="373.10" x2="284.59" y2="374.00" stroke="#1a1a1a" stroke-width="0.5"/>
<line x1="287.05" y1="373.10" x2="287.05" y2="374.00" stroke="#1a1a1a" stroke-width="0.5"/>
<line x1="289.07" y1="373.10" x2="289.07" y2="374.00" stroke="#1a1a1a" stroke-width="0.5"/>
<line x1="290.77" y1="373.10" x2="290.77" y2="374.00" stroke="#1a1a1a" stroke-width="0.5"/>
<line x1="292.24" y1="373.10" x2="292.24" y2="374.00" stroke="#1a1a1a" stroke-width="0.5"/>
<line x1="293.54" y1="373.10" x2="293.54" y2="374.00" stroke="#1a1a1a" stroke-width="0.5"/>
<line x1="294.70" y1="373.10" x2="294.70" y2="374.70" stroke="#1a1a1a" stroke-width="0.7"/>
<text x="295.30" y="381.16" font-size="4.6" font-weight="bold" text-anchor="end" fill="#111">10</text>
<text x="296.10" y="379.46" font-size="2.7" font-weight="normal" text-anchor="start" fill="#333" style="stroke-width:0.05px">-1</text>
<line x1="302.35" y1="373.10" x2="302.35" y2="374.00" stroke="#1a1a1a" stroke-width="0.5"/>
<line x1="306.82" y1="373.10" x2="306.82" y2="374.00" stroke="#1a1a1a" stroke-width="0.5"/>
<line x1="309.99" y1="373.10" x2="309.99" y2="374.00" stroke="#1a1a1a" stroke-width="0.5"/>
<line x1="312.45" y1="373.10" x2="312.45" y2="374.00" stroke="#1a1a1a" stroke-width="0.5"/>
<line x1="314.47" y1="373.10" x2="314.47" y2="374.00" stroke="#1a1a1a" stroke-width="0.5"/>
<line x1="316.17" y1="373.10" x2="316.17" y2="374.00" stroke="#1a1a1a" stroke-width="0.5"/>
<line x1="317.64" y1="373.10" x2="317.64" y2="374.00" stroke="#1a1a1a" stroke-width="0.5"/>
<line x1="318.94" y1="373.10" x2="318.94" y2="374.00" stroke="#1a1a1a" stroke-width="0.5"/>
<line x1="320.10" y1="373.10" x2="320.10" y2="374.70" stroke="#1a1a1a" stroke-width="0.7"/>
<text x="320.70" y="381.16" font-size="4.6" font-weight="bold" text-anchor="end" fill="#111">10</text>
<text x="321.50" y="379.46" font-size="2.7" font-weight="normal" text-anchor="start" fill="#333" style="stroke-width:0.05px">0</text>
<text x="0" y="0" font-size="5.75" font-weight="bold" text-anchor="middle" fill="#1a1a1a" style="stroke-width:0" transform="translate(205.00,339.20) rotate(-90)">In % of control mean</text>
<text x="268.45" y="388.17" font-size="5.55" font-weight="bold" text-anchor="middle" fill="#111">log<tspan font-size="3.8" dy="1.3">10</tspan><tspan dy="-1.3"> concentration of CHX (nM)</tspan></text>
<text x="273.80" y="400.40" font-size="7.7" font-weight="bold" text-anchor="middle" fill="#111" >(f)</text>
<line x1="328.00" y1="310.30" x2="335.20" y2="310.30" stroke="#3030ff" stroke-width="1.05"/>
<circle cx="331.60" cy="310.30" r="1.1" fill="#3030ff"/>
<text x="339.00" y="312.28" font-size="5.5" font-weight="normal" text-anchor="start" fill="#111" >ATP</text>
<line x1="328.00" y1="318.00" x2="335.20" y2="318.00" stroke="#008000" stroke-width="1.05"/>
<circle cx="331.60" cy="318.00" r="1.35" fill="#008000"/>
<text x="339.00" y="319.98" font-size="5.5" font-weight="normal" text-anchor="start" fill="#111" >GFP</text>
<line x1="328.00" y1="325.80" x2="335.20" y2="325.80" stroke="#ff4444" stroke-width="1.05"/>
<circle cx="331.60" cy="325.80" r="1.1" fill="#ff4444"/>
<text x="339.00" y="327.78" font-size="5.5" font-weight="normal" text-anchor="start" fill="#111" >Cell number</text>
<line x1="328.00" y1="333.20" x2="335.20" y2="333.20" stroke="#990099" stroke-width="1.05"/>
<circle cx="331.60" cy="333.20" r="1.1" fill="#990099"/>
<text x="339.00" y="335.18" font-size="5.5" font-weight="normal" text-anchor="start" fill="#111" >Protein content</text>
<path d="M243.90,332.42 C246.58,333.19 254.40,335.62 260.00,337.03 C265.60,338.44 272.03,340.10 277.50,340.90 C282.97,341.69 287.52,341.31 292.80,341.78 C298.08,342.24 306.47,343.36 309.20,343.67" fill="none" stroke="#008000" stroke-width="0.8"/>
<path d="M243.90,332.42 C249.50,332.60 269.35,333.00 277.50,333.50 C285.65,334.01 287.52,334.54 292.80,335.47 C298.08,336.40 306.47,338.47 309.20,339.06" fill="none" stroke="#ff4444" stroke-width="0.8"/>
<path d="M243.90,332.42 C246.92,332.31 255.98,331.88 262.00,331.74 C268.02,331.61 274.87,331.36 280.00,331.61 C285.13,331.86 289.18,332.53 292.80,333.23 C296.42,333.93 298.97,335.02 301.70,335.81 C304.43,336.60 307.95,337.62 309.20,337.98" fill="none" stroke="#990099" stroke-width="0.8"/>
<polyline points="243.90,324.28 302.20,324.28 302.90,329.50 309.20,329.50" fill="none" stroke="#3030ff" stroke-width="0.8" stroke-linejoin="round"/>
<circle cx="243.90" cy="332.42" r="0.9" fill="#660066"/>
<line x1="277.50" y1="339.88" x2="277.50" y2="341.91" stroke="#008000" stroke-width="0.6"/>
<line x1="276.60" y1="339.88" x2="278.40" y2="339.88" stroke="#008000" stroke-width="0.6"/>
<line x1="276.60" y1="341.91" x2="278.40" y2="341.91" stroke="#008000" stroke-width="0.6"/>
<circle cx="277.50" cy="340.90" r="1.25" fill="#008000"/>
<line x1="284.90" y1="340.22" x2="284.90" y2="342.25" stroke="#008000" stroke-width="0.6"/>
<line x1="284.00" y1="340.22" x2="285.80" y2="340.22" stroke="#008000" stroke-width="0.6"/>
<line x1="284.00" y1="342.25" x2="285.80" y2="342.25" stroke="#008000" stroke-width="0.6"/>
<circle cx="284.90" cy="341.23" r="1.25" fill="#008000"/>
<line x1="292.80" y1="340.22" x2="292.80" y2="342.25" stroke="#008000" stroke-width="0.6"/>
<line x1="291.90" y1="340.22" x2="293.70" y2="340.22" stroke="#008000" stroke-width="0.6"/>
<line x1="291.90" y1="342.25" x2="293.70" y2="342.25" stroke="#008000" stroke-width="0.6"/>
<circle cx="292.80" cy="341.23" r="1.25" fill="#008000"/>
<line x1="301.70" y1="341.57" x2="301.70" y2="342.93" stroke="#008000" stroke-width="0.6"/>
<line x1="300.80" y1="341.57" x2="302.60" y2="341.57" stroke="#008000" stroke-width="0.6"/>
<line x1="300.80" y1="342.93" x2="302.60" y2="342.93" stroke="#008000" stroke-width="0.6"/>
<circle cx="301.70" cy="342.25" r="1.25" fill="#008000"/>
<line x1="309.20" y1="342.93" x2="309.20" y2="344.29" stroke="#008000" stroke-width="0.6"/>
<line x1="308.30" y1="342.93" x2="310.10" y2="342.93" stroke="#008000" stroke-width="0.6"/>
<line x1="308.30" y1="344.29" x2="310.10" y2="344.29" stroke="#008000" stroke-width="0.6"/>
<circle cx="309.20" cy="343.61" r="1.25" fill="#008000"/>
<line x1="277.50" y1="332.15" x2="277.50" y2="334.86" stroke="#ff4444" stroke-width="0.6"/>
<line x1="276.60" y1="332.15" x2="278.40" y2="332.15" stroke="#ff4444" stroke-width="0.6"/>
<line x1="276.60" y1="334.86" x2="278.40" y2="334.86" stroke="#ff4444" stroke-width="0.6"/>
<circle cx="277.50" cy="333.50" r="0.9" fill="#ff4444"/>
<line x1="284.90" y1="333.10" x2="284.90" y2="335.81" stroke="#ff4444" stroke-width="0.6"/>
<line x1="284.00" y1="333.10" x2="285.80" y2="333.10" stroke="#ff4444" stroke-width="0.6"/>
<line x1="284.00" y1="335.81" x2="285.80" y2="335.81" stroke="#ff4444" stroke-width="0.6"/>
<circle cx="284.90" cy="334.45" r="0.9" fill="#ff4444"/>
<line x1="292.80" y1="334.12" x2="292.80" y2="338.18" stroke="#ff4444" stroke-width="0.6"/>
<line x1="291.90" y1="334.12" x2="293.70" y2="334.12" stroke="#ff4444" stroke-width="0.6"/>
<line x1="291.90" y1="338.18" x2="293.70" y2="338.18" stroke="#ff4444" stroke-width="0.6"/>
<circle cx="292.80" cy="336.15" r="0.9" fill="#ff4444"/>
<line x1="301.70" y1="335.47" x2="301.70" y2="339.54" stroke="#ff4444" stroke-width="0.6"/>
<line x1="300.80" y1="335.47" x2="302.60" y2="335.47" stroke="#ff4444" stroke-width="0.6"/>
<line x1="300.80" y1="339.54" x2="302.60" y2="339.54" stroke="#ff4444" stroke-width="0.6"/>
<circle cx="301.70" cy="337.50" r="0.9" fill="#ff4444"/>
<line x1="309.20" y1="337.78" x2="309.20" y2="340.49" stroke="#ff4444" stroke-width="0.6"/>
<line x1="308.30" y1="337.78" x2="310.10" y2="337.78" stroke="#ff4444" stroke-width="0.6"/>
<line x1="308.30" y1="340.49" x2="310.10" y2="340.49" stroke="#ff4444" stroke-width="0.6"/>
<circle cx="309.20" cy="339.13" r="0.9" fill="#ff4444"/>
<line x1="277.50" y1="329.30" x2="277.50" y2="333.37" stroke="#990099" stroke-width="0.6"/>
<line x1="276.60" y1="329.30" x2="278.40" y2="329.30" stroke="#990099" stroke-width="0.6"/>
<line x1="276.60" y1="333.37" x2="278.40" y2="333.37" stroke="#990099" stroke-width="0.6"/>
<circle cx="277.50" cy="331.34" r="0.9" fill="#990099"/>
<line x1="284.90" y1="329.98" x2="284.90" y2="334.05" stroke="#990099" stroke-width="0.6"/>
<line x1="284.00" y1="329.98" x2="285.80" y2="329.98" stroke="#990099" stroke-width="0.6"/>
<line x1="284.00" y1="334.05" x2="285.80" y2="334.05" stroke="#990099" stroke-width="0.6"/>
<circle cx="284.90" cy="332.01" r="0.9" fill="#990099"/>
<line x1="292.80" y1="328.76" x2="292.80" y2="338.25" stroke="#990099" stroke-width="0.6"/>
<line x1="291.90" y1="328.76" x2="293.70" y2="328.76" stroke="#990099" stroke-width="0.6"/>
<line x1="291.90" y1="338.25" x2="293.70" y2="338.25" stroke="#990099" stroke-width="0.6"/>
<circle cx="292.80" cy="333.50" r="0.9" fill="#990099"/>
<line x1="301.70" y1="333.10" x2="301.70" y2="339.88" stroke="#990099" stroke-width="0.6"/>
<line x1="300.80" y1="333.10" x2="302.60" y2="333.10" stroke="#990099" stroke-width="0.6"/>
<line x1="300.80" y1="339.88" x2="302.60" y2="339.88" stroke="#990099" stroke-width="0.6"/>
<circle cx="301.70" cy="336.49" r="0.9" fill="#990099"/>
<line x1="309.20" y1="335.27" x2="309.20" y2="340.69" stroke="#990099" stroke-width="0.6"/>
<line x1="308.30" y1="335.27" x2="310.10" y2="335.27" stroke="#990099" stroke-width="0.6"/>
<line x1="308.30" y1="340.69" x2="310.10" y2="340.69" stroke="#990099" stroke-width="0.6"/>
<circle cx="309.20" cy="337.98" r="0.9" fill="#990099"/>
<line x1="277.50" y1="316.15" x2="277.50" y2="323.61" stroke="#3030ff" stroke-width="0.6"/>
<line x1="276.60" y1="316.15" x2="278.40" y2="316.15" stroke="#3030ff" stroke-width="0.6"/>
<line x1="276.60" y1="323.61" x2="278.40" y2="323.61" stroke="#3030ff" stroke-width="0.6"/>
<circle cx="277.50" cy="319.88" r="0.9" fill="#3030ff"/>
<line x1="284.90" y1="316.49" x2="284.90" y2="325.98" stroke="#3030ff" stroke-width="0.6"/>
<line x1="284.00" y1="316.49" x2="285.80" y2="316.49" stroke="#3030ff" stroke-width="0.6"/>
<line x1="284.00" y1="325.98" x2="285.80" y2="325.98" stroke="#3030ff" stroke-width="0.6"/>
<circle cx="284.90" cy="321.23" r="0.9" fill="#3030ff"/>
<line x1="292.80" y1="318.72" x2="292.80" y2="328.22" stroke="#3030ff" stroke-width="0.6"/>
<line x1="291.90" y1="318.72" x2="293.70" y2="318.72" stroke="#3030ff" stroke-width="0.6"/>
<line x1="291.90" y1="328.22" x2="293.70" y2="328.22" stroke="#3030ff" stroke-width="0.6"/>
<circle cx="292.80" cy="323.47" r="0.9" fill="#3030ff"/>
<line x1="301.70" y1="324.28" x2="301.70" y2="327.67" stroke="#3030ff" stroke-width="0.6"/>
<line x1="300.80" y1="324.28" x2="302.60" y2="324.28" stroke="#3030ff" stroke-width="0.6"/>
<line x1="300.80" y1="327.67" x2="302.60" y2="327.67" stroke="#3030ff" stroke-width="0.6"/>
<circle cx="301.70" cy="325.98" r="0.9" fill="#3030ff"/>
<line x1="309.20" y1="326.59" x2="309.20" y2="332.01" stroke="#3030ff" stroke-width="0.6"/>
<line x1="308.30" y1="326.59" x2="310.10" y2="326.59" stroke="#3030ff" stroke-width="0.6"/>
<line x1="308.30" y1="332.01" x2="310.10" y2="332.01" stroke="#3030ff" stroke-width="0.6"/>
<circle cx="309.20" cy="329.30" r="0.9" fill="#3030ff"/>
<text x="270.10" y="442.03" font-size="6.52" font-weight="bold" text-anchor="middle" fill="#111" >Transformation of CHX 24 h</text>
<line x1="218.50" y1="517.65" x2="218.50" y2="449.55" stroke="#1a1a1a" stroke-width="0.9"/>
<line x1="216.90" y1="517.20" x2="218.50" y2="517.20" stroke="#1a1a1a" stroke-width="0.7"/>
<text x="216.30" y="519.30" font-size="5.0" font-weight="bold" text-anchor="end" fill="#111" >0</text>
<line x1="216.90" y1="506.04" x2="218.50" y2="506.04" stroke="#1a1a1a" stroke-width="0.7"/>
<text x="216.30" y="508.14" font-size="5.0" font-weight="bold" text-anchor="end" fill="#111" >20</text>
<line x1="216.90" y1="494.88" x2="218.50" y2="494.88" stroke="#1a1a1a" stroke-width="0.7"/>
<text x="216.30" y="496.98" font-size="5.0" font-weight="bold" text-anchor="end" fill="#111" >40</text>
<line x1="216.90" y1="483.72" x2="218.50" y2="483.72" stroke="#1a1a1a" stroke-width="0.7"/>
<text x="216.30" y="485.82" font-size="5.0" font-weight="bold" text-anchor="end" fill="#111" >60</text>
<line x1="216.90" y1="472.56" x2="218.50" y2="472.56" stroke="#1a1a1a" stroke-width="0.7"/>
<text x="216.30" y="474.66" font-size="5.0" font-weight="bold" text-anchor="end" fill="#111" >80</text>
<line x1="216.90" y1="461.40" x2="218.50" y2="461.40" stroke="#1a1a1a" stroke-width="0.7"/>
<text x="216.30" y="463.50" font-size="5.0" font-weight="bold" text-anchor="end" fill="#111" >100</text>
<line x1="216.90" y1="450.24" x2="218.50" y2="450.24" stroke="#1a1a1a" stroke-width="0.7"/>
<text x="216.30" y="452.34" font-size="5.0" font-weight="bold" text-anchor="end" fill="#111" >120</text>
<line x1="218.05" y1="517.20" x2="320.55" y2="517.20" stroke="#1a1a1a" stroke-width="0.9"/>
<line x1="218.50" y1="517.20" x2="218.50" y2="518.80" stroke="#1a1a1a" stroke-width="0.7"/>
<text x="219.10" y="525.26" font-size="4.6" font-weight="bold" text-anchor="end" fill="#111">10</text>
<text x="219.90" y="523.56" font-size="2.7" font-weight="normal" text-anchor="start" fill="#333" style="stroke-width:0.05px">-4</text>
<line x1="226.15" y1="517.20" x2="226.15" y2="518.10" stroke="#1a1a1a" stroke-width="0.5"/>
<line x1="230.62" y1="517.20" x2="230.62" y2="518.10" stroke="#1a1a1a" stroke-width="0.5"/>
<line x1="233.79" y1="517.20" x2="233.79" y2="518.10" stroke="#1a1a1a" stroke-width="0.5"/>
<line x1="236.25" y1="517.20" x2="236.25" y2="518.10" stroke="#1a1a1a" stroke-width="0.5"/>
<line x1="238.27" y1="517.20" x2="238.27" y2="518.10" stroke="#1a1a1a" stroke-width="0.5"/>
<line x1="239.97" y1="517.20" x2="239.97" y2="518.10" stroke="#1a1a1a" stroke-width="0.5"/>
<line x1="241.44" y1="517.20" x2="241.44" y2="518.10" stroke="#1a1a1a" stroke-width="0.5"/>
<line x1="242.74" y1="517.20" x2="242.74" y2="518.10" stroke="#1a1a1a" stroke-width="0.5"/>
<line x1="243.90" y1="517.20" x2="243.90" y2="518.80" stroke="#1a1a1a" stroke-width="0.7"/>
<text x="244.50" y="525.26" font-size="4.6" font-weight="bold" text-anchor="end" fill="#111">10</text>
<text x="245.30" y="523.56" font-size="2.7" font-weight="normal" text-anchor="start" fill="#333" style="stroke-width:0.05px">-3</text>
<line x1="251.55" y1="517.20" x2="251.55" y2="518.10" stroke="#1a1a1a" stroke-width="0.5"/>
<line x1="256.02" y1="517.20" x2="256.02" y2="518.10" stroke="#1a1a1a" stroke-width="0.5"/>
<line x1="259.19" y1="517.20" x2="259.19" y2="518.10" stroke="#1a1a1a" stroke-width="0.5"/>
<line x1="261.65" y1="517.20" x2="261.65" y2="518.10" stroke="#1a1a1a" stroke-width="0.5"/>
<line x1="263.67" y1="517.20" x2="263.67" y2="518.10" stroke="#1a1a1a" stroke-width="0.5"/>
<line x1="265.37" y1="517.20" x2="265.37" y2="518.10" stroke="#1a1a1a" stroke-width="0.5"/>
<line x1="266.84" y1="517.20" x2="266.84" y2="518.10" stroke="#1a1a1a" stroke-width="0.5"/>
<line x1="268.14" y1="517.20" x2="268.14" y2="518.10" stroke="#1a1a1a" stroke-width="0.5"/>
<line x1="269.30" y1="517.20" x2="269.30" y2="518.80" stroke="#1a1a1a" stroke-width="0.7"/>
<text x="269.90" y="525.26" font-size="4.6" font-weight="bold" text-anchor="end" fill="#111">10</text>
<text x="270.70" y="523.56" font-size="2.7" font-weight="normal" text-anchor="start" fill="#333" style="stroke-width:0.05px">-2</text>
<line x1="276.95" y1="517.20" x2="276.95" y2="518.10" stroke="#1a1a1a" stroke-width="0.5"/>
<line x1="281.42" y1="517.20" x2="281.42" y2="518.10" stroke="#1a1a1a" stroke-width="0.5"/>
<line x1="284.59" y1="517.20" x2="284.59" y2="518.10" stroke="#1a1a1a" stroke-width="0.5"/>
<line x1="287.05" y1="517.20" x2="287.05" y2="518.10" stroke="#1a1a1a" stroke-width="0.5"/>
<line x1="289.07" y1="517.20" x2="289.07" y2="518.10" stroke="#1a1a1a" stroke-width="0.5"/>
<line x1="290.77" y1="517.20" x2="290.77" y2="518.10" stroke="#1a1a1a" stroke-width="0.5"/>
<line x1="292.24" y1="517.20" x2="292.24" y2="518.10" stroke="#1a1a1a" stroke-width="0.5"/>
<line x1="293.54" y1="517.20" x2="293.54" y2="518.10" stroke="#1a1a1a" stroke-width="0.5"/>
<line x1="294.70" y1="517.20" x2="294.70" y2="518.80" stroke="#1a1a1a" stroke-width="0.7"/>
<text x="295.30" y="525.26" font-size="4.6" font-weight="bold" text-anchor="end" fill="#111">10</text>
<text x="296.10" y="523.56" font-size="2.7" font-weight="normal" text-anchor="start" fill="#333" style="stroke-width:0.05px">-1</text>
<line x1="302.35" y1="517.20" x2="302.35" y2="518.10" stroke="#1a1a1a" stroke-width="0.5"/>
<line x1="306.82" y1="517.20" x2="306.82" y2="518.10" stroke="#1a1a1a" stroke-width="0.5"/>
<line x1="309.99" y1="517.20" x2="309.99" y2="518.10" stroke="#1a1a1a" stroke-width="0.5"/>
<line x1="312.45" y1="517.20" x2="312.45" y2="518.10" stroke="#1a1a1a" stroke-width="0.5"/>
<line x1="314.47" y1="517.20" x2="314.47" y2="518.10" stroke="#1a1a1a" stroke-width="0.5"/>
<line x1="316.17" y1="517.20" x2="316.17" y2="518.10" stroke="#1a1a1a" stroke-width="0.5"/>
<line x1="317.64" y1="517.20" x2="317.64" y2="518.10" stroke="#1a1a1a" stroke-width="0.5"/>
<line x1="318.94" y1="517.20" x2="318.94" y2="518.10" stroke="#1a1a1a" stroke-width="0.5"/>
<line x1="320.10" y1="517.20" x2="320.10" y2="518.80" stroke="#1a1a1a" stroke-width="0.7"/>
<text x="320.70" y="525.26" font-size="4.6" font-weight="bold" text-anchor="end" fill="#111">10</text>
<text x="321.50" y="523.56" font-size="2.7" font-weight="normal" text-anchor="start" fill="#333" style="stroke-width:0.05px">0</text>
<text x="0" y="0" font-size="5.75" font-weight="bold" text-anchor="middle" fill="#1a1a1a" style="stroke-width:0" transform="translate(205.00,483.60) rotate(-90)">In % of control mean</text>
<text x="268.7" y="531.87" font-size="5.55" font-weight="bold" text-anchor="middle" fill="#111">log<tspan font-size="3.8" dy="1.3">10</tspan><tspan dy="-1.3"> concentration of CHX (nM)</tspan></text>
<text x="274.55" y="544.40" font-size="7.7" font-weight="bold" text-anchor="middle" fill="#111" >(h)</text>
<line x1="327.00" y1="454.80" x2="334.30" y2="454.80" stroke="#3030ff" stroke-width="1.05"/>
<circle cx="330.65" cy="454.80" r="1.1" fill="#3030ff"/>
<text x="337.90" y="456.78" font-size="5.5" font-weight="normal" text-anchor="start" fill="#111" >ATP</text>
<line x1="327.00" y1="462.30" x2="334.30" y2="462.30" stroke="#008000" stroke-width="1.05"/>
<circle cx="330.65" cy="462.30" r="1.35" fill="#008000"/>
<text x="337.90" y="464.28" font-size="5.5" font-weight="normal" text-anchor="start" fill="#111" >GFP</text>
<line x1="327.00" y1="469.90" x2="334.30" y2="469.90" stroke="#ff4444" stroke-width="1.05"/>
<circle cx="330.65" cy="469.90" r="1.1" fill="#ff4444"/>
<text x="337.90" y="471.88" font-size="5.5" font-weight="normal" text-anchor="start" fill="#111" >Cell number</text>
<line x1="327.00" y1="477.50" x2="334.30" y2="477.50" stroke="#990099" stroke-width="1.05"/>
<circle cx="330.65" cy="477.50" r="1.1" fill="#990099"/>
<text x="337.90" y="479.48" font-size="5.5" font-weight="normal" text-anchor="start" fill="#111" >Protein content</text>
<polyline points="243.80,461.40 244.61,462.88 245.42,464.31 246.23,465.67 247.04,466.98 247.85,468.24 248.66,469.44 249.47,470.60 250.28,471.71 251.09,472.77 251.90,473.79 252.71,474.77 253.52,475.71 254.33,476.60 255.14,477.47 255.95,478.29 256.76,479.09 257.57,479.85 258.38,480.58 259.19,481.28 260.00,481.95 260.81,482.59 261.62,483.21 262.43,483.80 263.24,484.37 264.05,484.91 264.86,485.44 265.67,485.94 266.48,486.42 267.29,486.88 268.10,487.32 268.91,487.74 269.72,488.15 270.53,488.54 271.34,488.91 272.15,489.27 272.96,489.61 273.77,489.94 274.58,490.26 275.39,490.56 276.20,490.85 277.01,491.13 277.82,491.40 278.63,491.66 279.44,491.90 280.25,492.14 281.06,492.37 281.87,492.58 282.68,492.79 283.49,492.99 284.30,493.18 285.11,493.37 285.92,493.54 286.73,493.71 287.54,493.87 288.35,494.03 289.16,494.18 289.97,494.32 290.78,494.46 291.59,494.59 292.40,494.72 293.21,494.84 294.02,494.95 294.83,495.06 295.64,495.17 296.45,495.27 297.26,495.37 298.07,495.47 298.88,495.56 299.69,495.64 300.50,495.72 301.31,495.80 302.12,495.88 302.93,495.95 303.74,496.02 304.55,496.09 305.36,496.16 306.17,496.22 306.98,496.28 307.79,496.33 308.60,496.39" fill="none" stroke="#008000" stroke-width="0.8" stroke-linejoin="round"/>
<polyline points="243.80,461.40 244.61,462.58 245.42,463.72 246.23,464.82 247.04,465.87 247.85,466.88 248.66,467.86 249.47,468.79 250.28,469.69 251.09,470.56 251.90,471.39 252.71,472.19 253.52,472.95 254.33,473.69 255.14,474.40 255.95,475.09 256.76,475.74 257.57,476.37 258.38,476.98 259.19,477.56 260.00,478.12 260.81,478.66 261.62,479.18 262.43,479.68 263.24,480.16 264.05,480.62 264.86,481.06 265.67,481.49 266.48,481.90 267.29,482.29 268.10,482.67 268.91,483.03 269.72,483.38 270.53,483.72 271.34,484.04 272.15,484.35 272.96,484.65 273.77,484.94 274.58,485.21 275.39,485.48 276.20,485.73 277.01,485.98 277.82,486.22 278.63,486.44 279.44,486.66 280.25,486.87 281.06,487.07 281.87,487.27 282.68,487.45 283.49,487.63 284.30,487.80 285.11,487.97 285.92,488.13 286.73,488.28 287.54,488.43 288.35,488.57 289.16,488.70 289.97,488.84 290.78,488.96 291.59,489.08 292.40,489.20 293.21,489.31 294.02,489.42 294.83,489.52 295.64,489.62 296.45,489.71 297.26,489.81 298.07,489.89 298.88,489.98 299.69,490.06 300.50,490.14 301.31,490.21 302.12,490.29 302.93,490.36 303.74,490.42 304.55,490.49 305.36,490.55 306.17,490.61 306.98,490.67 307.79,490.72 308.60,490.77" fill="none" stroke="#3030ff" stroke-width="0.8" stroke-linejoin="round"/>
<polyline points="243.80,461.40 244.61,462.32 245.42,463.21 246.23,464.07 247.04,464.90 247.85,465.71 248.66,466.49 249.47,467.25 250.28,467.98 251.09,468.69 251.90,469.38 252.71,470.04 253.52,470.69 254.33,471.31 255.14,471.92 255.95,472.50 256.76,473.07 257.57,473.62 258.38,474.15 259.19,474.67 260.00,475.16 260.81,475.65 261.62,476.11 262.43,476.57 263.24,477.00 264.05,477.43 264.86,477.84 265.67,478.24 266.48,478.62 267.29,479.00 268.10,479.36 268.91,479.71 269.72,480.05 270.53,480.38 271.34,480.69 272.15,481.00 272.96,481.30 273.77,481.59 274.58,481.87 275.39,482.14 276.20,482.40 277.01,482.65 277.82,482.90 278.63,483.14 279.44,483.37 280.25,483.59 281.06,483.81 281.87,484.01 282.68,484.22 283.49,484.41 284.30,484.60 285.11,484.79 285.92,484.97 286.73,485.14 287.54,485.31 288.35,485.47 289.16,485.62 289.97,485.78 290.78,485.92 291.59,486.06 292.40,486.20 293.21,486.34 294.02,486.46 294.83,486.59 295.64,486.71 296.45,486.83 297.26,486.94 298.07,487.05 298.88,487.16 299.69,487.26 300.50,487.36 301.31,487.46 302.12,487.55 302.93,487.64 303.74,487.73 304.55,487.81 305.36,487.90 306.17,487.98 306.98,488.05 307.79,488.13 308.60,488.20" fill="none" stroke="#ff4444" stroke-width="0.8" stroke-linejoin="round"/>
<polyline points="243.80,461.40 244.61,461.87 245.42,462.33 246.23,462.79 247.04,463.24 247.85,463.69 248.66,464.14 249.47,464.59 250.28,465.03 251.09,465.47 251.90,465.90 252.71,466.33 253.52,466.76 254.33,467.18 255.14,467.61 255.95,468.02 256.76,468.44 257.57,468.85 258.38,469.26 259.19,469.67 260.00,470.07 260.81,470.47 261.62,470.87 262.43,471.26 263.24,471.65 264.05,472.04 264.86,472.42 265.67,472.81 266.48,473.18 267.29,473.56 268.10,473.93 268.91,474.30 269.72,474.67 270.53,475.04 271.34,475.40 272.15,475.76 272.96,476.12 273.77,476.47 274.58,476.82 275.39,477.17 276.20,477.52 277.01,477.86 277.82,478.20 278.63,478.54 279.44,478.87 280.25,479.21 281.06,479.54 281.87,479.86 282.68,480.19 283.49,480.51 284.30,480.83 285.11,481.15 285.92,481.47 286.73,481.78 287.54,482.09 288.35,482.40 289.16,482.71 289.97,483.01 290.78,483.31 291.59,483.61 292.40,483.91 293.21,484.20 294.02,484.50 294.83,484.79 295.64,485.08 296.45,485.36 297.26,485.64 298.07,485.93 298.88,486.21 299.69,486.48 300.50,486.76 301.31,487.03 302.12,487.30 302.93,487.57 303.74,487.84 304.55,488.10 305.36,488.37 306.17,488.63 306.98,488.89 307.79,489.14 308.60,489.40" fill="none" stroke="#990099" stroke-width="0.8" stroke-linejoin="round"/>
<circle cx="243.80" cy="461.40" r="1.0" fill="#660066"/>
<line x1="276.90" y1="490.25" x2="276.90" y2="491.92" stroke="#008000" stroke-width="0.6"/>
<line x1="276.00" y1="490.25" x2="277.80" y2="490.25" stroke="#008000" stroke-width="0.6"/>
<line x1="276.00" y1="491.92" x2="277.80" y2="491.92" stroke="#008000" stroke-width="0.6"/>
<circle cx="276.90" cy="491.09" r="1.25" fill="#008000"/>
<line x1="284.30" y1="491.31" x2="284.30" y2="494.66" stroke="#008000" stroke-width="0.6"/>
<line x1="283.40" y1="491.31" x2="285.20" y2="491.31" stroke="#008000" stroke-width="0.6"/>
<line x1="283.40" y1="494.66" x2="285.20" y2="494.66" stroke="#008000" stroke-width="0.6"/>
<circle cx="284.30" cy="492.98" r="1.25" fill="#008000"/>
<line x1="292.10" y1="492.31" x2="292.10" y2="495.66" stroke="#008000" stroke-width="0.6"/>
<line x1="291.20" y1="492.31" x2="293.00" y2="492.31" stroke="#008000" stroke-width="0.6"/>
<line x1="291.20" y1="495.66" x2="293.00" y2="495.66" stroke="#008000" stroke-width="0.6"/>
<circle cx="292.10" cy="493.99" r="1.25" fill="#008000"/>
<line x1="300.80" y1="493.43" x2="300.80" y2="496.78" stroke="#008000" stroke-width="0.6"/>
<line x1="299.90" y1="493.43" x2="301.70" y2="493.43" stroke="#008000" stroke-width="0.6"/>
<line x1="299.90" y1="496.78" x2="301.70" y2="496.78" stroke="#008000" stroke-width="0.6"/>
<circle cx="300.80" cy="495.10" r="1.25" fill="#008000"/>
<line x1="308.60" y1="494.15" x2="308.60" y2="498.06" stroke="#008000" stroke-width="0.6"/>
<line x1="307.70" y1="494.15" x2="309.50" y2="494.15" stroke="#008000" stroke-width="0.6"/>
<line x1="307.70" y1="498.06" x2="309.50" y2="498.06" stroke="#008000" stroke-width="0.6"/>
<circle cx="308.60" cy="496.11" r="1.25" fill="#008000"/>
<line x1="276.90" y1="484.84" x2="276.90" y2="487.07" stroke="#3030ff" stroke-width="0.6"/>
<line x1="276.00" y1="484.84" x2="277.80" y2="484.84" stroke="#3030ff" stroke-width="0.6"/>
<line x1="276.00" y1="487.07" x2="277.80" y2="487.07" stroke="#3030ff" stroke-width="0.6"/>
<circle cx="276.90" cy="485.95" r="0.9" fill="#3030ff"/>
<line x1="284.30" y1="486.51" x2="284.30" y2="488.74" stroke="#3030ff" stroke-width="0.6"/>
<line x1="283.40" y1="486.51" x2="285.20" y2="486.51" stroke="#3030ff" stroke-width="0.6"/>
<line x1="283.40" y1="488.74" x2="285.20" y2="488.74" stroke="#3030ff" stroke-width="0.6"/>
<circle cx="284.30" cy="487.63" r="0.9" fill="#3030ff"/>
<line x1="292.10" y1="487.91" x2="292.10" y2="490.14" stroke="#3030ff" stroke-width="0.6"/>
<line x1="291.20" y1="487.91" x2="293.00" y2="487.91" stroke="#3030ff" stroke-width="0.6"/>
<line x1="291.20" y1="490.14" x2="293.00" y2="490.14" stroke="#3030ff" stroke-width="0.6"/>
<circle cx="292.10" cy="489.02" r="0.9" fill="#3030ff"/>
<line x1="300.80" y1="488.46" x2="300.80" y2="490.70" stroke="#3030ff" stroke-width="0.6"/>
<line x1="299.90" y1="488.46" x2="301.70" y2="488.46" stroke="#3030ff" stroke-width="0.6"/>
<line x1="299.90" y1="490.70" x2="301.70" y2="490.70" stroke="#3030ff" stroke-width="0.6"/>
<circle cx="300.80" cy="489.58" r="0.9" fill="#3030ff"/>
<line x1="308.60" y1="489.58" x2="308.60" y2="491.81" stroke="#3030ff" stroke-width="0.6"/>
<line x1="307.70" y1="489.58" x2="309.50" y2="489.58" stroke="#3030ff" stroke-width="0.6"/>
<line x1="307.70" y1="491.81" x2="309.50" y2="491.81" stroke="#3030ff" stroke-width="0.6"/>
<circle cx="308.60" cy="490.70" r="0.9" fill="#3030ff"/>
<line x1="276.90" y1="481.49" x2="276.90" y2="483.72" stroke="#ff4444" stroke-width="0.6"/>
<line x1="276.00" y1="481.49" x2="277.80" y2="481.49" stroke="#ff4444" stroke-width="0.6"/>
<line x1="276.00" y1="483.72" x2="277.80" y2="483.72" stroke="#ff4444" stroke-width="0.6"/>
<circle cx="276.90" cy="482.60" r="0.9" fill="#ff4444"/>
<line x1="284.30" y1="483.16" x2="284.30" y2="485.39" stroke="#ff4444" stroke-width="0.6"/>
<line x1="283.40" y1="483.16" x2="285.20" y2="483.16" stroke="#ff4444" stroke-width="0.6"/>
<line x1="283.40" y1="485.39" x2="285.20" y2="485.39" stroke="#ff4444" stroke-width="0.6"/>
<circle cx="284.30" cy="484.28" r="0.9" fill="#ff4444"/>
<line x1="292.10" y1="484.84" x2="292.10" y2="487.07" stroke="#ff4444" stroke-width="0.6"/>
<line x1="291.20" y1="484.84" x2="293.00" y2="484.84" stroke="#ff4444" stroke-width="0.6"/>
<line x1="291.20" y1="487.07" x2="293.00" y2="487.07" stroke="#ff4444" stroke-width="0.6"/>
<circle cx="292.10" cy="485.95" r="0.9" fill="#ff4444"/>
<line x1="300.80" y1="485.95" x2="300.80" y2="488.18" stroke="#ff4444" stroke-width="0.6"/>
<line x1="299.90" y1="485.95" x2="301.70" y2="485.95" stroke="#ff4444" stroke-width="0.6"/>
<line x1="299.90" y1="488.18" x2="301.70" y2="488.18" stroke="#ff4444" stroke-width="0.6"/>
<circle cx="300.80" cy="487.07" r="0.9" fill="#ff4444"/>
<line x1="308.60" y1="487.07" x2="308.60" y2="489.30" stroke="#ff4444" stroke-width="0.6"/>
<line x1="307.70" y1="487.07" x2="309.50" y2="487.07" stroke="#ff4444" stroke-width="0.6"/>
<line x1="307.70" y1="489.30" x2="309.50" y2="489.30" stroke="#ff4444" stroke-width="0.6"/>
<circle cx="308.60" cy="488.18" r="0.9" fill="#ff4444"/>
<line x1="276.90" y1="474.46" x2="276.90" y2="481.15" stroke="#990099" stroke-width="0.6"/>
<line x1="276.00" y1="474.46" x2="277.80" y2="474.46" stroke="#990099" stroke-width="0.6"/>
<line x1="276.00" y1="481.15" x2="277.80" y2="481.15" stroke="#990099" stroke-width="0.6"/>
<circle cx="276.90" cy="477.81" r="0.9" fill="#990099"/>
<line x1="284.30" y1="479.26" x2="284.30" y2="483.72" stroke="#990099" stroke-width="0.6"/>
<line x1="283.40" y1="479.26" x2="285.20" y2="479.26" stroke="#990099" stroke-width="0.6"/>
<line x1="283.40" y1="483.72" x2="285.20" y2="483.72" stroke="#990099" stroke-width="0.6"/>
<circle cx="284.30" cy="481.49" r="0.9" fill="#990099"/>
<line x1="292.10" y1="482.83" x2="292.10" y2="486.18" stroke="#990099" stroke-width="0.6"/>
<line x1="291.20" y1="482.83" x2="293.00" y2="482.83" stroke="#990099" stroke-width="0.6"/>
<line x1="291.20" y1="486.18" x2="293.00" y2="486.18" stroke="#990099" stroke-width="0.6"/>
<circle cx="292.10" cy="484.50" r="0.9" fill="#990099"/>
<line x1="300.80" y1="485.95" x2="300.80" y2="488.18" stroke="#990099" stroke-width="0.6"/>
<line x1="299.90" y1="485.95" x2="301.70" y2="485.95" stroke="#990099" stroke-width="0.6"/>
<line x1="299.90" y1="488.18" x2="301.70" y2="488.18" stroke="#990099" stroke-width="0.6"/>
<circle cx="300.80" cy="487.07" r="0.9" fill="#990099"/>
<line x1="308.60" y1="488.18" x2="308.60" y2="491.53" stroke="#990099" stroke-width="0.6"/>
<line x1="307.70" y1="488.18" x2="309.50" y2="488.18" stroke="#990099" stroke-width="0.6"/>
<line x1="307.70" y1="491.53" x2="309.50" y2="491.53" stroke="#990099" stroke-width="0.6"/>
<circle cx="308.60" cy="489.86" r="0.9" fill="#990099"/>
</svg>
</body></html>
